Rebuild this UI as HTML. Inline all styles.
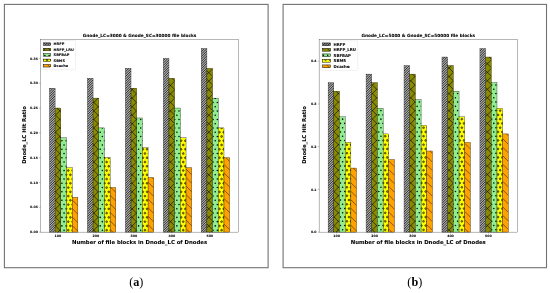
<!DOCTYPE html>
<html><head><meta charset="utf-8"><title>Figure</title>
<style>
html,body{margin:0;padding:0;background:#fff;}
svg{display:block;font-family:'DejaVu Sans','Liberation Sans',sans-serif;font-weight:bold;}
svg text{fill:#000;stroke:#000;stroke-width:0.07;}
svg text.cap{font-family:'Liberation Serif',serif;font-weight:normal;stroke:none;}
.hl{stroke:#000;stroke-width:0.6;fill:none;}
.hg{stroke:#161616;stroke-width:0.82;fill:none;}
.hl2{stroke:#1c0e00;stroke-width:0.5;fill:none;}
.hd{fill:#000;}
.ho{fill:#2a2200;fill-opacity:0.5;stroke:#1a1400;stroke-width:0.7;stroke-opacity:0.78;}
.tk{stroke:#000;stroke-width:0.285;}
</style></head><body>
<svg width="550" height="293" viewBox="0 0 550 293"><rect width="550" height="293" fill="#fff"/><rect x="4.4" y="4.4" width="263.70" height="263.30" fill="#fff" stroke="#727272" stroke-width="1.1"/><clipPath id="c1"><rect x="49.41" y="88.18" width="5.69" height="143.92"/></clipPath><rect x="49.41" y="88.18" width="5.69" height="143.92" fill="#acacac"/><path d="M49.41 89.46L50.69 88.18M49.41 91.89L53.12 88.18M49.41 94.32L55.11 88.62M49.41 96.75L55.11 91.05M49.41 99.18L55.11 93.48M49.41 101.61L55.11 95.91M49.41 104.04L55.11 98.34M49.41 106.47L55.11 100.77M49.41 108.9L55.11 103.2M49.41 111.33L55.11 105.63M49.41 113.76L55.11 108.06M49.41 116.19L55.11 110.49M49.41 118.62L55.11 112.92M49.41 121.05L55.11 115.35M49.41 123.48L55.11 117.78M49.41 125.91L55.11 120.21M49.41 128.34L55.11 122.64M49.41 130.77L55.11 125.07M49.41 133.2L55.11 127.5M49.41 135.63L55.11 129.93M49.41 138.06L55.11 132.36M49.41 140.49L55.11 134.79M49.41 142.92L55.11 137.22M49.41 145.35L55.11 139.65M49.41 147.78L55.11 142.08M49.41 150.21L55.11 144.51M49.41 152.64L55.11 146.94M49.41 155.07L55.11 149.37M49.41 157.5L55.11 151.8M49.41 159.93L55.11 154.23M49.41 162.36L55.11 156.66M49.41 164.79L55.11 159.09M49.41 167.22L55.11 161.52M49.41 169.65L55.11 163.95M49.41 172.08L55.11 166.38M49.41 174.51L55.11 168.81M49.41 176.94L55.11 171.24M49.41 179.37L55.11 173.67M49.41 181.8L55.11 176.1M49.41 184.23L55.11 178.53M49.41 186.66L55.11 180.96M49.41 189.09L55.11 183.39M49.41 191.52L55.11 185.82M49.41 193.95L55.11 188.25M49.41 196.38L55.11 190.68M49.41 198.81L55.11 193.11M49.41 201.24L55.11 195.54M49.41 203.67L55.11 197.97M49.41 206.1L55.11 200.4M49.41 208.53L55.11 202.83M49.41 210.96L55.11 205.26M49.41 213.39L55.11 207.69M49.41 215.82L55.11 210.12M49.41 218.25L55.11 212.55M49.41 220.68L55.11 214.98M49.41 223.11L55.11 217.41M49.41 225.54L55.11 219.84M49.41 227.97L55.11 222.27M49.41 230.4L55.11 224.7M50.14 232.1L55.11 227.13M52.57 232.1L55.11 229.56M55 232.1L55.11 231.99" class="hg" clip-path="url(#c1)"/><rect x="49.41" y="88.18" width="5.69" height="143.92" fill="none" stroke="#000" stroke-width="0.32"/><clipPath id="c2"><rect x="87.37" y="78.26" width="5.69" height="153.84"/></clipPath><rect x="87.37" y="78.26" width="5.69" height="153.84" fill="#acacac"/><path d="M87.37 80.66L89.77 78.26M87.37 83.09L92.2 78.26M87.37 85.52L93.06 79.83M87.37 87.95L93.06 82.26M87.37 90.38L93.06 84.69M87.37 92.81L93.06 87.12M87.37 95.24L93.06 89.55M87.37 97.67L93.06 91.98M87.37 100.1L93.06 94.41M87.37 102.53L93.06 96.84M87.37 104.96L93.06 99.27M87.37 107.39L93.06 101.7M87.37 109.82L93.06 104.13M87.37 112.25L93.06 106.56M87.37 114.68L93.06 108.99M87.37 117.11L93.06 111.42M87.37 119.54L93.06 113.85M87.37 121.97L93.06 116.28M87.37 124.4L93.06 118.71M87.37 126.83L93.06 121.14M87.37 129.26L93.06 123.57M87.37 131.69L93.06 126M87.37 134.12L93.06 128.43M87.37 136.55L93.06 130.86M87.37 138.98L93.06 133.29M87.37 141.41L93.06 135.72M87.37 143.84L93.06 138.15M87.37 146.27L93.06 140.58M87.37 148.7L93.06 143.01M87.37 151.13L93.06 145.44M87.37 153.56L93.06 147.87M87.37 155.99L93.06 150.3M87.37 158.42L93.06 152.73M87.37 160.85L93.06 155.16M87.37 163.28L93.06 157.59M87.37 165.71L93.06 160.02M87.37 168.14L93.06 162.45M87.37 170.57L93.06 164.88M87.37 173L93.06 167.31M87.37 175.43L93.06 169.74M87.37 177.86L93.06 172.17M87.37 180.29L93.06 174.6M87.37 182.72L93.06 177.03M87.37 185.15L93.06 179.46M87.37 187.58L93.06 181.89M87.37 190.01L93.06 184.32M87.37 192.44L93.06 186.75M87.37 194.87L93.06 189.18M87.37 197.3L93.06 191.61M87.37 199.73L93.06 194.04M87.37 202.16L93.06 196.47M87.37 204.59L93.06 198.9M87.37 207.02L93.06 201.33M87.37 209.45L93.06 203.76M87.37 211.88L93.06 206.19M87.37 214.31L93.06 208.62M87.37 216.74L93.06 211.05M87.37 219.17L93.06 213.48M87.37 221.6L93.06 215.91M87.37 224.03L93.06 218.34M87.37 226.46L93.06 220.77M87.37 228.89L93.06 223.2M87.37 231.32L93.06 225.63M89.02 232.1L93.06 228.06M91.45 232.1L93.06 230.49" class="hg" clip-path="url(#c2)"/><rect x="87.37" y="78.26" width="5.69" height="153.84" fill="none" stroke="#000" stroke-width="0.32"/><clipPath id="c3"><rect x="125.32" y="68.33" width="5.69" height="163.77"/></clipPath><rect x="125.32" y="68.33" width="5.69" height="163.77" fill="#acacac"/><path d="M125.32 69.44L126.43 68.33M125.32 71.87L128.86 68.33M125.32 74.3L131.01 68.61M125.32 76.73L131.01 71.04M125.32 79.16L131.01 73.47M125.32 81.59L131.01 75.9M125.32 84.02L131.01 78.33M125.32 86.45L131.01 80.76M125.32 88.88L131.01 83.19M125.32 91.31L131.01 85.62M125.32 93.74L131.01 88.05M125.32 96.17L131.01 90.48M125.32 98.6L131.01 92.91M125.32 101.03L131.01 95.34M125.32 103.46L131.01 97.77M125.32 105.89L131.01 100.2M125.32 108.32L131.01 102.63M125.32 110.75L131.01 105.06M125.32 113.18L131.01 107.49M125.32 115.61L131.01 109.92M125.32 118.04L131.01 112.35M125.32 120.47L131.01 114.78M125.32 122.9L131.01 117.21M125.32 125.33L131.01 119.64M125.32 127.76L131.01 122.07M125.32 130.19L131.01 124.5M125.32 132.62L131.01 126.93M125.32 135.05L131.01 129.36M125.32 137.48L131.01 131.79M125.32 139.91L131.01 134.22M125.32 142.34L131.01 136.65M125.32 144.77L131.01 139.08M125.32 147.2L131.01 141.51M125.32 149.63L131.01 143.94M125.32 152.06L131.01 146.37M125.32 154.49L131.01 148.8M125.32 156.92L131.01 151.23M125.32 159.35L131.01 153.66M125.32 161.78L131.01 156.09M125.32 164.21L131.01 158.52M125.32 166.64L131.01 160.95M125.32 169.07L131.01 163.38M125.32 171.5L131.01 165.81M125.32 173.93L131.01 168.24M125.32 176.36L131.01 170.67M125.32 178.79L131.01 173.1M125.32 181.22L131.01 175.53M125.32 183.65L131.01 177.96M125.32 186.08L131.01 180.39M125.32 188.51L131.01 182.82M125.32 190.94L131.01 185.25M125.32 193.37L131.01 187.68M125.32 195.8L131.01 190.11M125.32 198.23L131.01 192.54M125.32 200.66L131.01 194.97M125.32 203.09L131.01 197.4M125.32 205.52L131.01 199.83M125.32 207.95L131.01 202.26M125.32 210.38L131.01 204.69M125.32 212.81L131.01 207.12M125.32 215.24L131.01 209.55M125.32 217.67L131.01 211.98M125.32 220.1L131.01 214.41M125.32 222.53L131.01 216.84M125.32 224.96L131.01 219.27M125.32 227.39L131.01 221.7M125.32 229.82L131.01 224.13M125.47 232.1L131.01 226.56M127.9 232.1L131.01 228.99M130.33 232.1L131.01 231.42" class="hg" clip-path="url(#c3)"/><rect x="125.32" y="68.33" width="5.69" height="163.77" fill="none" stroke="#000" stroke-width="0.32"/><clipPath id="c4"><rect x="163.27" y="58.41" width="5.69" height="173.69"/></clipPath><rect x="163.27" y="58.41" width="5.69" height="173.69" fill="#acacac"/><path d="M163.27 60.65L165.51 58.41M163.27 63.08L167.94 58.41M163.27 65.51L168.96 59.82M163.27 67.94L168.96 62.25M163.27 70.37L168.96 64.68M163.27 72.8L168.96 67.11M163.27 75.23L168.96 69.54M163.27 77.66L168.96 71.97M163.27 80.09L168.96 74.4M163.27 82.52L168.96 76.83M163.27 84.95L168.96 79.26M163.27 87.38L168.96 81.69M163.27 89.81L168.96 84.12M163.27 92.24L168.96 86.55M163.27 94.67L168.96 88.98M163.27 97.1L168.96 91.41M163.27 99.53L168.96 93.84M163.27 101.96L168.96 96.27M163.27 104.39L168.96 98.7M163.27 106.82L168.96 101.13M163.27 109.25L168.96 103.56M163.27 111.68L168.96 105.99M163.27 114.11L168.96 108.42M163.27 116.54L168.96 110.85M163.27 118.97L168.96 113.28M163.27 121.4L168.96 115.71M163.27 123.83L168.96 118.14M163.27 126.26L168.96 120.57M163.27 128.69L168.96 123M163.27 131.12L168.96 125.43M163.27 133.55L168.96 127.86M163.27 135.98L168.96 130.29M163.27 138.41L168.96 132.72M163.27 140.84L168.96 135.15M163.27 143.27L168.96 137.58M163.27 145.7L168.96 140.01M163.27 148.13L168.96 142.44M163.27 150.56L168.96 144.87M163.27 152.99L168.96 147.3M163.27 155.42L168.96 149.73M163.27 157.85L168.96 152.16M163.27 160.28L168.96 154.59M163.27 162.71L168.96 157.02M163.27 165.14L168.96 159.45M163.27 167.57L168.96 161.88M163.27 170L168.96 164.31M163.27 172.43L168.96 166.74M163.27 174.86L168.96 169.17M163.27 177.29L168.96 171.6M163.27 179.72L168.96 174.03M163.27 182.15L168.96 176.46M163.27 184.58L168.96 178.89M163.27 187.01L168.96 181.32M163.27 189.44L168.96 183.75M163.27 191.87L168.96 186.18M163.27 194.3L168.96 188.61M163.27 196.73L168.96 191.04M163.27 199.16L168.96 193.47M163.27 201.59L168.96 195.9M163.27 204.02L168.96 198.33M163.27 206.45L168.96 200.76M163.27 208.88L168.96 203.19M163.27 211.31L168.96 205.62M163.27 213.74L168.96 208.05M163.27 216.17L168.96 210.48M163.27 218.6L168.96 212.91M163.27 221.03L168.96 215.34M163.27 223.46L168.96 217.77M163.27 225.89L168.96 220.2M163.27 228.32L168.96 222.63M163.27 230.75L168.96 225.06M164.35 232.1L168.96 227.49M166.78 232.1L168.96 229.92" class="hg" clip-path="url(#c4)"/><rect x="163.27" y="58.41" width="5.69" height="173.69" fill="none" stroke="#000" stroke-width="0.32"/><clipPath id="c5"><rect x="201.22" y="48.48" width="5.69" height="183.62"/></clipPath><rect x="201.22" y="48.48" width="5.69" height="183.62" fill="#acacac"/><path d="M201.22 49.43L202.17 48.48M201.22 51.86L204.6 48.48M201.22 54.29L206.92 48.59M201.22 56.72L206.92 51.02M201.22 59.15L206.92 53.45M201.22 61.58L206.92 55.88M201.22 64.01L206.92 58.31M201.22 66.44L206.92 60.74M201.22 68.87L206.92 63.17M201.22 71.3L206.92 65.6M201.22 73.73L206.92 68.03M201.22 76.16L206.92 70.46M201.22 78.59L206.92 72.89M201.22 81.02L206.92 75.32M201.22 83.45L206.92 77.75M201.22 85.88L206.92 80.18M201.22 88.31L206.92 82.61M201.22 90.74L206.92 85.04M201.22 93.17L206.92 87.47M201.22 95.6L206.92 89.9M201.22 98.03L206.92 92.33M201.22 100.46L206.92 94.76M201.22 102.89L206.92 97.19M201.22 105.32L206.92 99.62M201.22 107.75L206.92 102.05M201.22 110.18L206.92 104.48M201.22 112.61L206.92 106.91M201.22 115.04L206.92 109.34M201.22 117.47L206.92 111.77M201.22 119.9L206.92 114.2M201.22 122.33L206.92 116.63M201.22 124.76L206.92 119.06M201.22 127.19L206.92 121.49M201.22 129.62L206.92 123.92M201.22 132.05L206.92 126.35M201.22 134.48L206.92 128.78M201.22 136.91L206.92 131.21M201.22 139.34L206.92 133.64M201.22 141.77L206.92 136.07M201.22 144.2L206.92 138.5M201.22 146.63L206.92 140.93M201.22 149.06L206.92 143.36M201.22 151.49L206.92 145.79M201.22 153.92L206.92 148.22M201.22 156.35L206.92 150.65M201.22 158.78L206.92 153.08M201.22 161.21L206.92 155.51M201.22 163.64L206.92 157.94M201.22 166.07L206.92 160.37M201.22 168.5L206.92 162.8M201.22 170.93L206.92 165.23M201.22 173.36L206.92 167.66M201.22 175.79L206.92 170.09M201.22 178.22L206.92 172.52M201.22 180.65L206.92 174.95M201.22 183.08L206.92 177.38M201.22 185.51L206.92 179.81M201.22 187.94L206.92 182.24M201.22 190.37L206.92 184.67M201.22 192.8L206.92 187.1M201.22 195.23L206.92 189.53M201.22 197.66L206.92 191.96M201.22 200.09L206.92 194.39M201.22 202.52L206.92 196.82M201.22 204.95L206.92 199.25M201.22 207.38L206.92 201.68M201.22 209.81L206.92 204.11M201.22 212.24L206.92 206.54M201.22 214.67L206.92 208.97M201.22 217.1L206.92 211.4M201.22 219.53L206.92 213.83M201.22 221.96L206.92 216.26M201.22 224.39L206.92 218.69M201.22 226.82L206.92 221.12M201.22 229.25L206.92 223.55M201.22 231.68L206.92 225.98M203.23 232.1L206.92 228.41M205.66 232.1L206.92 230.84" class="hg" clip-path="url(#c5)"/><rect x="201.22" y="48.48" width="5.69" height="183.62" fill="none" stroke="#000" stroke-width="0.32"/><clipPath id="c6"><rect x="55.11" y="108.03" width="5.69" height="124.07"/></clipPath><rect x="55.11" y="108.03" width="5.69" height="124.07" fill="#8a8a00"/><path d="M55.11 115.59L60.8 109.89M55.11 124.1L60.8 118.41M55.11 132.62L60.8 126.93M55.11 141.14L60.8 135.44M55.11 149.65L60.8 143.96M55.11 158.17L60.8 152.48M55.11 166.69L60.8 160.99M55.11 175.2L60.8 169.51M55.11 183.72L60.8 178.03M55.11 192.24L60.8 186.54M55.11 200.75L60.8 195.06M55.11 209.27L60.8 203.58M55.11 217.79L60.8 212.09M55.11 226.3L60.8 220.61M57.83 232.1L60.8 229.13M55.11 225.48L60.8 231.17M55.11 216.96L60.8 222.66M55.11 208.45L60.8 214.14M55.11 199.93L60.8 205.62M55.11 191.41L60.8 197.11M55.11 182.9L60.8 188.59M55.11 174.38L60.8 180.07M55.11 165.86L60.8 171.56M55.11 157.35L60.8 163.04M55.11 148.83L60.8 154.52M55.11 140.31L60.8 146.01M55.11 131.8L60.8 137.49M55.11 123.28L60.8 128.97M55.11 114.76L60.8 120.46M56.89 108.03L60.8 111.94" class="hl" clip-path="url(#c6)"/><rect x="55.11" y="108.03" width="5.69" height="124.07" fill="none" stroke="#000" stroke-width="0.32"/><clipPath id="c7"><rect x="93.06" y="98.11" width="5.69" height="133.99"/></clipPath><rect x="93.06" y="98.11" width="5.69" height="133.99" fill="#8a8a00"/><path d="M93.06 103.18L98.14 98.11M93.06 111.7L98.75 106.01M93.06 120.22L98.75 114.53M93.06 128.73L98.75 123.04M93.06 137.25L98.75 131.56M93.06 145.77L98.75 140.08M93.06 154.28L98.75 148.59M93.06 162.8L98.75 157.11M93.06 171.32L98.75 165.63M93.06 179.83L98.75 174.14M93.06 188.35L98.75 182.66M93.06 196.87L98.75 191.18M93.06 205.38L98.75 199.69M93.06 213.9L98.75 208.21M93.06 222.42L98.75 216.73M93.06 230.93L98.75 225.24M93.06 229.37L95.79 232.1M93.06 220.85L98.75 226.54M93.06 212.33L98.75 218.02M93.06 203.82L98.75 209.51M93.06 195.3L98.75 200.99M93.06 186.78L98.75 192.47M93.06 178.27L98.75 183.96M93.06 169.75L98.75 175.44M93.06 161.23L98.75 166.92M93.06 152.72L98.75 158.41M93.06 144.2L98.75 149.89M93.06 135.68L98.75 141.37M93.06 127.17L98.75 132.86M93.06 118.65L98.75 124.34M93.06 110.13L98.75 115.82M93.06 101.62L98.75 107.31M98.07 98.11L98.75 98.79" class="hl" clip-path="url(#c7)"/><rect x="93.06" y="98.11" width="5.69" height="133.99" fill="none" stroke="#000" stroke-width="0.32"/><clipPath id="c8"><rect x="131.01" y="88.18" width="5.69" height="143.92"/></clipPath><rect x="131.01" y="88.18" width="5.69" height="143.92" fill="#8a8a00"/><path d="M131.01 90.78L133.61 88.18M131.01 99.3L136.7 93.61M131.01 107.82L136.7 102.12M131.01 116.33L136.7 110.64M131.01 124.85L136.7 119.16M131.01 133.37L136.7 127.67M131.01 141.88L136.7 136.19M131.01 150.4L136.7 144.71M131.01 158.92L136.7 153.22M131.01 167.43L136.7 161.74M131.01 175.95L136.7 170.26M131.01 184.47L136.7 178.77M131.01 192.98L136.7 187.29M131.01 201.5L136.7 195.81M131.01 210.02L136.7 204.32M131.01 218.53L136.7 212.84M131.01 227.05L136.7 221.36M134.48 232.1L136.7 229.87M131.01 224.73L136.7 230.43M131.01 216.22L136.7 221.91M131.01 207.7L136.7 213.39M131.01 199.18L136.7 204.88M131.01 190.67L136.7 196.36M131.01 182.15L136.7 187.84M131.01 173.63L136.7 179.33M131.01 165.12L136.7 170.81M131.01 156.6L136.7 162.29M131.01 148.08L136.7 153.78M131.01 139.57L136.7 145.26M131.01 131.05L136.7 136.74M131.01 122.53L136.7 128.23M131.01 114.02L136.7 119.71M131.01 105.5L136.7 111.19M131.01 96.98L136.7 102.68M131.01 88.47L136.7 94.16" class="hl" clip-path="url(#c8)"/><rect x="131.01" y="88.18" width="5.69" height="143.92" fill="none" stroke="#000" stroke-width="0.32"/><clipPath id="c9"><rect x="168.96" y="78.26" width="5.69" height="153.84"/></clipPath><rect x="168.96" y="78.26" width="5.69" height="153.84" fill="#8a8a00"/><path d="M168.96 78.38L169.09 78.26M168.96 86.9L174.66 81.2M168.96 95.41L174.66 89.72M168.96 103.93L174.66 98.24M168.96 112.45L174.66 106.75M168.96 120.96L174.66 115.27M168.96 129.48L174.66 123.79M168.96 138L174.66 132.3M168.96 146.51L174.66 140.82M168.96 155.03L174.66 149.34M168.96 163.55L174.66 157.85M168.96 172.06L174.66 166.37M168.96 180.58L174.66 174.89M168.96 189.1L174.66 183.4M168.96 197.61L174.66 191.92M168.96 206.13L174.66 200.44M168.96 214.65L174.66 208.95M168.96 223.16L174.66 217.47M168.96 231.68L174.66 225.99M168.96 228.62L172.44 232.1M168.96 220.1L174.66 225.8M168.96 211.59L174.66 217.28M168.96 203.07L174.66 208.76M168.96 194.55L174.66 200.25M168.96 186.04L174.66 191.73M168.96 177.52L174.66 183.21M168.96 169L174.66 174.7M168.96 160.49L174.66 166.18M168.96 151.97L174.66 157.66M168.96 143.45L174.66 149.15M168.96 134.94L174.66 140.63M168.96 126.42L174.66 132.11M168.96 117.9L174.66 123.6M168.96 109.39L174.66 115.08M168.96 100.87L174.66 106.56M168.96 92.35L174.66 98.05M168.96 83.84L174.66 89.53M171.9 78.26L174.66 81.01" class="hl" clip-path="url(#c9)"/><rect x="168.96" y="78.26" width="5.69" height="153.84" fill="none" stroke="#000" stroke-width="0.32"/><clipPath id="c10"><rect x="206.92" y="68.33" width="5.69" height="163.77"/></clipPath><rect x="206.92" y="68.33" width="5.69" height="163.77" fill="#8a8a00"/><path d="M206.92 74.49L212.61 68.8M206.92 83.01L212.61 77.32M206.92 91.53L212.61 85.84M206.92 100.04L212.61 94.35M206.92 108.56L212.61 102.87M206.92 117.08L212.61 111.39M206.92 125.59L212.61 119.9M206.92 134.11L212.61 128.42M206.92 142.63L212.61 136.94M206.92 151.14L212.61 145.45M206.92 159.66L212.61 153.97M206.92 168.18L212.61 162.49M206.92 176.69L212.61 171M206.92 185.21L212.61 179.52M206.92 193.73L212.61 188.04M206.92 202.24L212.61 196.55M206.92 210.76L212.61 205.07M206.92 219.28L212.61 213.59M206.92 227.79L212.61 222.1M211.13 232.1L212.61 230.62M206.92 223.99L212.61 229.68M206.92 215.47L212.61 221.16M206.92 206.96L212.61 212.65M206.92 198.44L212.61 204.13M206.92 189.92L212.61 195.61M206.92 181.41L212.61 187.1M206.92 172.89L212.61 178.58M206.92 164.37L212.61 170.06M206.92 155.86L212.61 161.55M206.92 147.34L212.61 153.03M206.92 138.82L212.61 144.51M206.92 130.31L212.61 136M206.92 121.79L212.61 127.48M206.92 113.27L212.61 118.96M206.92 104.76L212.61 110.45M206.92 96.24L212.61 101.93M206.92 87.72L212.61 93.41M206.92 79.21L212.61 84.9M206.92 70.69L212.61 76.38" class="hl" clip-path="url(#c10)"/><rect x="206.92" y="68.33" width="5.69" height="163.77" fill="none" stroke="#000" stroke-width="0.32"/><clipPath id="c11"><rect x="60.8" y="137.81" width="5.69" height="94.29"/></clipPath><rect x="60.8" y="137.81" width="5.69" height="94.29" fill="#90ee90"/><g class="hd" clip-path="url(#c11)"><circle cx="61.91" cy="140.72" r="0.77"/><circle cx="66.16" cy="140.72" r="0.77"/><circle cx="59.78" cy="144.98" r="0.77"/><circle cx="64.04" cy="144.98" r="0.77"/><circle cx="61.91" cy="149.24" r="0.77"/><circle cx="66.16" cy="149.24" r="0.77"/><circle cx="59.78" cy="153.5" r="0.77"/><circle cx="64.04" cy="153.5" r="0.77"/><circle cx="61.91" cy="157.76" r="0.77"/><circle cx="66.16" cy="157.76" r="0.77"/><circle cx="59.78" cy="162.02" r="0.77"/><circle cx="64.04" cy="162.02" r="0.77"/><circle cx="61.91" cy="166.28" r="0.77"/><circle cx="66.16" cy="166.28" r="0.77"/><circle cx="59.78" cy="170.53" r="0.77"/><circle cx="64.04" cy="170.53" r="0.77"/><circle cx="61.91" cy="174.79" r="0.77"/><circle cx="66.16" cy="174.79" r="0.77"/><circle cx="59.78" cy="179.05" r="0.77"/><circle cx="64.04" cy="179.05" r="0.77"/><circle cx="61.91" cy="183.31" r="0.77"/><circle cx="66.16" cy="183.31" r="0.77"/><circle cx="59.78" cy="187.57" r="0.77"/><circle cx="64.04" cy="187.57" r="0.77"/><circle cx="61.91" cy="191.83" r="0.77"/><circle cx="66.16" cy="191.83" r="0.77"/><circle cx="59.78" cy="196.08" r="0.77"/><circle cx="64.04" cy="196.08" r="0.77"/><circle cx="61.91" cy="200.34" r="0.77"/><circle cx="66.16" cy="200.34" r="0.77"/><circle cx="59.78" cy="204.6" r="0.77"/><circle cx="64.04" cy="204.6" r="0.77"/><circle cx="61.91" cy="208.86" r="0.77"/><circle cx="66.16" cy="208.86" r="0.77"/><circle cx="59.78" cy="213.12" r="0.77"/><circle cx="64.04" cy="213.12" r="0.77"/><circle cx="61.91" cy="217.38" r="0.77"/><circle cx="66.16" cy="217.38" r="0.77"/><circle cx="59.78" cy="221.63" r="0.77"/><circle cx="64.04" cy="221.63" r="0.77"/><circle cx="61.91" cy="225.89" r="0.77"/><circle cx="66.16" cy="225.89" r="0.77"/><circle cx="59.78" cy="230.15" r="0.77"/><circle cx="64.04" cy="230.15" r="0.77"/></g><rect x="60.8" y="137.81" width="5.69" height="94.29" fill="none" stroke="#000" stroke-width="0.32"/><clipPath id="c12"><rect x="98.75" y="127.88" width="5.69" height="104.22"/></clipPath><rect x="98.75" y="127.88" width="5.69" height="104.22" fill="#90ee90"/><g class="hd" clip-path="url(#c12)"><circle cx="98.1" cy="127.95" r="0.77"/><circle cx="102.36" cy="127.95" r="0.77"/><circle cx="100.23" cy="132.21" r="0.77"/><circle cx="104.49" cy="132.21" r="0.77"/><circle cx="98.1" cy="136.47" r="0.77"/><circle cx="102.36" cy="136.47" r="0.77"/><circle cx="100.23" cy="140.72" r="0.77"/><circle cx="104.49" cy="140.72" r="0.77"/><circle cx="98.1" cy="144.98" r="0.77"/><circle cx="102.36" cy="144.98" r="0.77"/><circle cx="100.23" cy="149.24" r="0.77"/><circle cx="104.49" cy="149.24" r="0.77"/><circle cx="98.1" cy="153.5" r="0.77"/><circle cx="102.36" cy="153.5" r="0.77"/><circle cx="100.23" cy="157.76" r="0.77"/><circle cx="104.49" cy="157.76" r="0.77"/><circle cx="98.1" cy="162.02" r="0.77"/><circle cx="102.36" cy="162.02" r="0.77"/><circle cx="100.23" cy="166.28" r="0.77"/><circle cx="104.49" cy="166.28" r="0.77"/><circle cx="98.1" cy="170.53" r="0.77"/><circle cx="102.36" cy="170.53" r="0.77"/><circle cx="100.23" cy="174.79" r="0.77"/><circle cx="104.49" cy="174.79" r="0.77"/><circle cx="98.1" cy="179.05" r="0.77"/><circle cx="102.36" cy="179.05" r="0.77"/><circle cx="100.23" cy="183.31" r="0.77"/><circle cx="104.49" cy="183.31" r="0.77"/><circle cx="98.1" cy="187.57" r="0.77"/><circle cx="102.36" cy="187.57" r="0.77"/><circle cx="100.23" cy="191.83" r="0.77"/><circle cx="104.49" cy="191.83" r="0.77"/><circle cx="98.1" cy="196.08" r="0.77"/><circle cx="102.36" cy="196.08" r="0.77"/><circle cx="100.23" cy="200.34" r="0.77"/><circle cx="104.49" cy="200.34" r="0.77"/><circle cx="98.1" cy="204.6" r="0.77"/><circle cx="102.36" cy="204.6" r="0.77"/><circle cx="100.23" cy="208.86" r="0.77"/><circle cx="104.49" cy="208.86" r="0.77"/><circle cx="98.1" cy="213.12" r="0.77"/><circle cx="102.36" cy="213.12" r="0.77"/><circle cx="100.23" cy="217.38" r="0.77"/><circle cx="104.49" cy="217.38" r="0.77"/><circle cx="98.1" cy="221.63" r="0.77"/><circle cx="102.36" cy="221.63" r="0.77"/><circle cx="100.23" cy="225.89" r="0.77"/><circle cx="104.49" cy="225.89" r="0.77"/><circle cx="98.1" cy="230.15" r="0.77"/><circle cx="102.36" cy="230.15" r="0.77"/></g><rect x="98.75" y="127.88" width="5.69" height="104.22" fill="none" stroke="#000" stroke-width="0.32"/><clipPath id="c13"><rect x="136.7" y="117.96" width="5.69" height="114.14"/></clipPath><rect x="136.7" y="117.96" width="5.69" height="114.14" fill="#90ee90"/><g class="hd" clip-path="url(#c13)"><circle cx="136.43" cy="119.43" r="0.77"/><circle cx="140.69" cy="119.43" r="0.77"/><circle cx="138.56" cy="123.69" r="0.77"/><circle cx="142.81" cy="123.69" r="0.77"/><circle cx="136.43" cy="127.95" r="0.77"/><circle cx="140.69" cy="127.95" r="0.77"/><circle cx="138.56" cy="132.21" r="0.77"/><circle cx="142.81" cy="132.21" r="0.77"/><circle cx="136.43" cy="136.47" r="0.77"/><circle cx="140.69" cy="136.47" r="0.77"/><circle cx="138.56" cy="140.72" r="0.77"/><circle cx="142.81" cy="140.72" r="0.77"/><circle cx="136.43" cy="144.98" r="0.77"/><circle cx="140.69" cy="144.98" r="0.77"/><circle cx="138.56" cy="149.24" r="0.77"/><circle cx="142.81" cy="149.24" r="0.77"/><circle cx="136.43" cy="153.5" r="0.77"/><circle cx="140.69" cy="153.5" r="0.77"/><circle cx="138.56" cy="157.76" r="0.77"/><circle cx="142.81" cy="157.76" r="0.77"/><circle cx="136.43" cy="162.02" r="0.77"/><circle cx="140.69" cy="162.02" r="0.77"/><circle cx="138.56" cy="166.28" r="0.77"/><circle cx="142.81" cy="166.28" r="0.77"/><circle cx="136.43" cy="170.53" r="0.77"/><circle cx="140.69" cy="170.53" r="0.77"/><circle cx="138.56" cy="174.79" r="0.77"/><circle cx="142.81" cy="174.79" r="0.77"/><circle cx="136.43" cy="179.05" r="0.77"/><circle cx="140.69" cy="179.05" r="0.77"/><circle cx="138.56" cy="183.31" r="0.77"/><circle cx="142.81" cy="183.31" r="0.77"/><circle cx="136.43" cy="187.57" r="0.77"/><circle cx="140.69" cy="187.57" r="0.77"/><circle cx="138.56" cy="191.83" r="0.77"/><circle cx="142.81" cy="191.83" r="0.77"/><circle cx="136.43" cy="196.08" r="0.77"/><circle cx="140.69" cy="196.08" r="0.77"/><circle cx="138.56" cy="200.34" r="0.77"/><circle cx="142.81" cy="200.34" r="0.77"/><circle cx="136.43" cy="204.6" r="0.77"/><circle cx="140.69" cy="204.6" r="0.77"/><circle cx="138.56" cy="208.86" r="0.77"/><circle cx="142.81" cy="208.86" r="0.77"/><circle cx="136.43" cy="213.12" r="0.77"/><circle cx="140.69" cy="213.12" r="0.77"/><circle cx="138.56" cy="217.38" r="0.77"/><circle cx="142.81" cy="217.38" r="0.77"/><circle cx="136.43" cy="221.63" r="0.77"/><circle cx="140.69" cy="221.63" r="0.77"/><circle cx="138.56" cy="225.89" r="0.77"/><circle cx="142.81" cy="225.89" r="0.77"/><circle cx="136.43" cy="230.15" r="0.77"/><circle cx="140.69" cy="230.15" r="0.77"/></g><rect x="136.7" y="117.96" width="5.69" height="114.14" fill="none" stroke="#000" stroke-width="0.32"/><clipPath id="c14"><rect x="174.66" y="108.03" width="5.69" height="124.07"/></clipPath><rect x="174.66" y="108.03" width="5.69" height="124.07" fill="#90ee90"/><g class="hd" clip-path="url(#c14)"><circle cx="174.75" cy="110.92" r="0.77"/><circle cx="179.01" cy="110.92" r="0.77"/><circle cx="176.88" cy="115.18" r="0.77"/><circle cx="181.14" cy="115.18" r="0.77"/><circle cx="174.75" cy="119.43" r="0.77"/><circle cx="179.01" cy="119.43" r="0.77"/><circle cx="176.88" cy="123.69" r="0.77"/><circle cx="181.14" cy="123.69" r="0.77"/><circle cx="174.75" cy="127.95" r="0.77"/><circle cx="179.01" cy="127.95" r="0.77"/><circle cx="176.88" cy="132.21" r="0.77"/><circle cx="181.14" cy="132.21" r="0.77"/><circle cx="174.75" cy="136.47" r="0.77"/><circle cx="179.01" cy="136.47" r="0.77"/><circle cx="176.88" cy="140.72" r="0.77"/><circle cx="181.14" cy="140.72" r="0.77"/><circle cx="174.75" cy="144.98" r="0.77"/><circle cx="179.01" cy="144.98" r="0.77"/><circle cx="176.88" cy="149.24" r="0.77"/><circle cx="181.14" cy="149.24" r="0.77"/><circle cx="174.75" cy="153.5" r="0.77"/><circle cx="179.01" cy="153.5" r="0.77"/><circle cx="176.88" cy="157.76" r="0.77"/><circle cx="181.14" cy="157.76" r="0.77"/><circle cx="174.75" cy="162.02" r="0.77"/><circle cx="179.01" cy="162.02" r="0.77"/><circle cx="176.88" cy="166.28" r="0.77"/><circle cx="181.14" cy="166.28" r="0.77"/><circle cx="174.75" cy="170.53" r="0.77"/><circle cx="179.01" cy="170.53" r="0.77"/><circle cx="176.88" cy="174.79" r="0.77"/><circle cx="181.14" cy="174.79" r="0.77"/><circle cx="174.75" cy="179.05" r="0.77"/><circle cx="179.01" cy="179.05" r="0.77"/><circle cx="176.88" cy="183.31" r="0.77"/><circle cx="181.14" cy="183.31" r="0.77"/><circle cx="174.75" cy="187.57" r="0.77"/><circle cx="179.01" cy="187.57" r="0.77"/><circle cx="176.88" cy="191.83" r="0.77"/><circle cx="181.14" cy="191.83" r="0.77"/><circle cx="174.75" cy="196.08" r="0.77"/><circle cx="179.01" cy="196.08" r="0.77"/><circle cx="176.88" cy="200.34" r="0.77"/><circle cx="181.14" cy="200.34" r="0.77"/><circle cx="174.75" cy="204.6" r="0.77"/><circle cx="179.01" cy="204.6" r="0.77"/><circle cx="176.88" cy="208.86" r="0.77"/><circle cx="181.14" cy="208.86" r="0.77"/><circle cx="174.75" cy="213.12" r="0.77"/><circle cx="179.01" cy="213.12" r="0.77"/><circle cx="176.88" cy="217.38" r="0.77"/><circle cx="181.14" cy="217.38" r="0.77"/><circle cx="174.75" cy="221.63" r="0.77"/><circle cx="179.01" cy="221.63" r="0.77"/><circle cx="176.88" cy="225.89" r="0.77"/><circle cx="181.14" cy="225.89" r="0.77"/><circle cx="174.75" cy="230.15" r="0.77"/><circle cx="179.01" cy="230.15" r="0.77"/></g><rect x="174.66" y="108.03" width="5.69" height="124.07" fill="none" stroke="#000" stroke-width="0.32"/><clipPath id="c15"><rect x="212.61" y="98.11" width="5.69" height="133.99"/></clipPath><rect x="212.61" y="98.11" width="5.69" height="133.99" fill="#90ee90"/><g class="hd" clip-path="url(#c15)"><circle cx="215.21" cy="98.14" r="0.77"/><circle cx="213.08" cy="102.4" r="0.77"/><circle cx="217.34" cy="102.4" r="0.77"/><circle cx="215.21" cy="106.66" r="0.77"/><circle cx="213.08" cy="110.92" r="0.77"/><circle cx="217.34" cy="110.92" r="0.77"/><circle cx="215.21" cy="115.18" r="0.77"/><circle cx="213.08" cy="119.43" r="0.77"/><circle cx="217.34" cy="119.43" r="0.77"/><circle cx="215.21" cy="123.69" r="0.77"/><circle cx="213.08" cy="127.95" r="0.77"/><circle cx="217.34" cy="127.95" r="0.77"/><circle cx="215.21" cy="132.21" r="0.77"/><circle cx="213.08" cy="136.47" r="0.77"/><circle cx="217.34" cy="136.47" r="0.77"/><circle cx="215.21" cy="140.72" r="0.77"/><circle cx="213.08" cy="144.98" r="0.77"/><circle cx="217.34" cy="144.98" r="0.77"/><circle cx="215.21" cy="149.24" r="0.77"/><circle cx="213.08" cy="153.5" r="0.77"/><circle cx="217.34" cy="153.5" r="0.77"/><circle cx="215.21" cy="157.76" r="0.77"/><circle cx="213.08" cy="162.02" r="0.77"/><circle cx="217.34" cy="162.02" r="0.77"/><circle cx="215.21" cy="166.28" r="0.77"/><circle cx="213.08" cy="170.53" r="0.77"/><circle cx="217.34" cy="170.53" r="0.77"/><circle cx="215.21" cy="174.79" r="0.77"/><circle cx="213.08" cy="179.05" r="0.77"/><circle cx="217.34" cy="179.05" r="0.77"/><circle cx="215.21" cy="183.31" r="0.77"/><circle cx="213.08" cy="187.57" r="0.77"/><circle cx="217.34" cy="187.57" r="0.77"/><circle cx="215.21" cy="191.83" r="0.77"/><circle cx="213.08" cy="196.08" r="0.77"/><circle cx="217.34" cy="196.08" r="0.77"/><circle cx="215.21" cy="200.34" r="0.77"/><circle cx="213.08" cy="204.6" r="0.77"/><circle cx="217.34" cy="204.6" r="0.77"/><circle cx="215.21" cy="208.86" r="0.77"/><circle cx="213.08" cy="213.12" r="0.77"/><circle cx="217.34" cy="213.12" r="0.77"/><circle cx="215.21" cy="217.38" r="0.77"/><circle cx="213.08" cy="221.63" r="0.77"/><circle cx="217.34" cy="221.63" r="0.77"/><circle cx="215.21" cy="225.89" r="0.77"/><circle cx="213.08" cy="230.15" r="0.77"/><circle cx="217.34" cy="230.15" r="0.77"/></g><rect x="212.61" y="98.11" width="5.69" height="133.99" fill="none" stroke="#000" stroke-width="0.32"/><clipPath id="c16"><rect x="66.49" y="167.59" width="5.69" height="64.51"/></clipPath><rect x="66.49" y="167.59" width="5.69" height="64.51" fill="#ffff00"/><g class="ho" clip-path="url(#c16)"><circle cx="68.29" cy="170.53" r="0.92"/><circle cx="72.55" cy="170.53" r="0.92"/><circle cx="66.16" cy="174.79" r="0.92"/><circle cx="70.42" cy="174.79" r="0.92"/><circle cx="68.29" cy="179.05" r="0.92"/><circle cx="72.55" cy="179.05" r="0.92"/><circle cx="66.16" cy="183.31" r="0.92"/><circle cx="70.42" cy="183.31" r="0.92"/><circle cx="68.29" cy="187.57" r="0.92"/><circle cx="72.55" cy="187.57" r="0.92"/><circle cx="66.16" cy="191.83" r="0.92"/><circle cx="70.42" cy="191.83" r="0.92"/><circle cx="68.29" cy="196.08" r="0.92"/><circle cx="72.55" cy="196.08" r="0.92"/><circle cx="66.16" cy="200.34" r="0.92"/><circle cx="70.42" cy="200.34" r="0.92"/><circle cx="68.29" cy="204.6" r="0.92"/><circle cx="72.55" cy="204.6" r="0.92"/><circle cx="66.16" cy="208.86" r="0.92"/><circle cx="70.42" cy="208.86" r="0.92"/><circle cx="68.29" cy="213.12" r="0.92"/><circle cx="72.55" cy="213.12" r="0.92"/><circle cx="66.16" cy="217.38" r="0.92"/><circle cx="70.42" cy="217.38" r="0.92"/><circle cx="68.29" cy="221.63" r="0.92"/><circle cx="72.55" cy="221.63" r="0.92"/><circle cx="66.16" cy="225.89" r="0.92"/><circle cx="70.42" cy="225.89" r="0.92"/><circle cx="68.29" cy="230.15" r="0.92"/><circle cx="72.55" cy="230.15" r="0.92"/></g><rect x="66.49" y="167.59" width="5.69" height="64.51" fill="none" stroke="#000" stroke-width="0.32"/><clipPath id="c17"><rect x="104.44" y="157.66" width="5.69" height="74.44"/></clipPath><rect x="104.44" y="157.66" width="5.69" height="74.44" fill="#ffff00"/><g class="ho" clip-path="url(#c17)"><circle cx="104.49" cy="157.76" r="0.92"/><circle cx="108.75" cy="157.76" r="0.92"/><circle cx="106.62" cy="162.02" r="0.92"/><circle cx="110.88" cy="162.02" r="0.92"/><circle cx="104.49" cy="166.28" r="0.92"/><circle cx="108.75" cy="166.28" r="0.92"/><circle cx="106.62" cy="170.53" r="0.92"/><circle cx="110.88" cy="170.53" r="0.92"/><circle cx="104.49" cy="174.79" r="0.92"/><circle cx="108.75" cy="174.79" r="0.92"/><circle cx="106.62" cy="179.05" r="0.92"/><circle cx="110.88" cy="179.05" r="0.92"/><circle cx="104.49" cy="183.31" r="0.92"/><circle cx="108.75" cy="183.31" r="0.92"/><circle cx="106.62" cy="187.57" r="0.92"/><circle cx="110.88" cy="187.57" r="0.92"/><circle cx="104.49" cy="191.83" r="0.92"/><circle cx="108.75" cy="191.83" r="0.92"/><circle cx="106.62" cy="196.08" r="0.92"/><circle cx="110.88" cy="196.08" r="0.92"/><circle cx="104.49" cy="200.34" r="0.92"/><circle cx="108.75" cy="200.34" r="0.92"/><circle cx="106.62" cy="204.6" r="0.92"/><circle cx="110.88" cy="204.6" r="0.92"/><circle cx="104.49" cy="208.86" r="0.92"/><circle cx="108.75" cy="208.86" r="0.92"/><circle cx="106.62" cy="213.12" r="0.92"/><circle cx="110.88" cy="213.12" r="0.92"/><circle cx="104.49" cy="217.38" r="0.92"/><circle cx="108.75" cy="217.38" r="0.92"/><circle cx="106.62" cy="221.63" r="0.92"/><circle cx="110.88" cy="221.63" r="0.92"/><circle cx="104.49" cy="225.89" r="0.92"/><circle cx="108.75" cy="225.89" r="0.92"/><circle cx="106.62" cy="230.15" r="0.92"/><circle cx="110.88" cy="230.15" r="0.92"/></g><rect x="104.44" y="157.66" width="5.69" height="74.44" fill="none" stroke="#000" stroke-width="0.32"/><clipPath id="c18"><rect x="142.4" y="147.73" width="5.69" height="84.37"/></clipPath><rect x="142.4" y="147.73" width="5.69" height="84.37" fill="#ffff00"/><g class="ho" clip-path="url(#c18)"><circle cx="142.81" cy="149.24" r="0.92"/><circle cx="147.07" cy="149.24" r="0.92"/><circle cx="144.94" cy="153.5" r="0.92"/><circle cx="149.2" cy="153.5" r="0.92"/><circle cx="142.81" cy="157.76" r="0.92"/><circle cx="147.07" cy="157.76" r="0.92"/><circle cx="144.94" cy="162.02" r="0.92"/><circle cx="149.2" cy="162.02" r="0.92"/><circle cx="142.81" cy="166.28" r="0.92"/><circle cx="147.07" cy="166.28" r="0.92"/><circle cx="144.94" cy="170.53" r="0.92"/><circle cx="149.2" cy="170.53" r="0.92"/><circle cx="142.81" cy="174.79" r="0.92"/><circle cx="147.07" cy="174.79" r="0.92"/><circle cx="144.94" cy="179.05" r="0.92"/><circle cx="149.2" cy="179.05" r="0.92"/><circle cx="142.81" cy="183.31" r="0.92"/><circle cx="147.07" cy="183.31" r="0.92"/><circle cx="144.94" cy="187.57" r="0.92"/><circle cx="149.2" cy="187.57" r="0.92"/><circle cx="142.81" cy="191.83" r="0.92"/><circle cx="147.07" cy="191.83" r="0.92"/><circle cx="144.94" cy="196.08" r="0.92"/><circle cx="149.2" cy="196.08" r="0.92"/><circle cx="142.81" cy="200.34" r="0.92"/><circle cx="147.07" cy="200.34" r="0.92"/><circle cx="144.94" cy="204.6" r="0.92"/><circle cx="149.2" cy="204.6" r="0.92"/><circle cx="142.81" cy="208.86" r="0.92"/><circle cx="147.07" cy="208.86" r="0.92"/><circle cx="144.94" cy="213.12" r="0.92"/><circle cx="149.2" cy="213.12" r="0.92"/><circle cx="142.81" cy="217.38" r="0.92"/><circle cx="147.07" cy="217.38" r="0.92"/><circle cx="144.94" cy="221.63" r="0.92"/><circle cx="149.2" cy="221.63" r="0.92"/><circle cx="142.81" cy="225.89" r="0.92"/><circle cx="147.07" cy="225.89" r="0.92"/><circle cx="144.94" cy="230.15" r="0.92"/><circle cx="149.2" cy="230.15" r="0.92"/></g><rect x="142.4" y="147.73" width="5.69" height="84.37" fill="none" stroke="#000" stroke-width="0.32"/><clipPath id="c19"><rect x="180.35" y="137.81" width="5.69" height="94.29"/></clipPath><rect x="180.35" y="137.81" width="5.69" height="94.29" fill="#ffff00"/><g class="ho" clip-path="url(#c19)"><circle cx="181.14" cy="140.72" r="0.92"/><circle cx="185.4" cy="140.72" r="0.92"/><circle cx="183.27" cy="144.98" r="0.92"/><circle cx="181.14" cy="149.24" r="0.92"/><circle cx="185.4" cy="149.24" r="0.92"/><circle cx="183.27" cy="153.5" r="0.92"/><circle cx="181.14" cy="157.76" r="0.92"/><circle cx="185.4" cy="157.76" r="0.92"/><circle cx="183.27" cy="162.02" r="0.92"/><circle cx="181.14" cy="166.28" r="0.92"/><circle cx="185.4" cy="166.28" r="0.92"/><circle cx="183.27" cy="170.53" r="0.92"/><circle cx="181.14" cy="174.79" r="0.92"/><circle cx="185.4" cy="174.79" r="0.92"/><circle cx="183.27" cy="179.05" r="0.92"/><circle cx="181.14" cy="183.31" r="0.92"/><circle cx="185.4" cy="183.31" r="0.92"/><circle cx="183.27" cy="187.57" r="0.92"/><circle cx="181.14" cy="191.83" r="0.92"/><circle cx="185.4" cy="191.83" r="0.92"/><circle cx="183.27" cy="196.08" r="0.92"/><circle cx="181.14" cy="200.34" r="0.92"/><circle cx="185.4" cy="200.34" r="0.92"/><circle cx="183.27" cy="204.6" r="0.92"/><circle cx="181.14" cy="208.86" r="0.92"/><circle cx="185.4" cy="208.86" r="0.92"/><circle cx="183.27" cy="213.12" r="0.92"/><circle cx="181.14" cy="217.38" r="0.92"/><circle cx="185.4" cy="217.38" r="0.92"/><circle cx="183.27" cy="221.63" r="0.92"/><circle cx="181.14" cy="225.89" r="0.92"/><circle cx="185.4" cy="225.89" r="0.92"/><circle cx="183.27" cy="230.15" r="0.92"/></g><rect x="180.35" y="137.81" width="5.69" height="94.29" fill="none" stroke="#000" stroke-width="0.32"/><clipPath id="c20"><rect x="218.3" y="127.88" width="5.69" height="104.22"/></clipPath><rect x="218.3" y="127.88" width="5.69" height="104.22" fill="#ffff00"/><g class="ho" clip-path="url(#c20)"><circle cx="217.34" cy="127.95" r="0.92"/><circle cx="221.59" cy="127.95" r="0.92"/><circle cx="219.46" cy="132.21" r="0.92"/><circle cx="223.72" cy="132.21" r="0.92"/><circle cx="217.34" cy="136.47" r="0.92"/><circle cx="221.59" cy="136.47" r="0.92"/><circle cx="219.46" cy="140.72" r="0.92"/><circle cx="223.72" cy="140.72" r="0.92"/><circle cx="217.34" cy="144.98" r="0.92"/><circle cx="221.59" cy="144.98" r="0.92"/><circle cx="219.46" cy="149.24" r="0.92"/><circle cx="223.72" cy="149.24" r="0.92"/><circle cx="217.34" cy="153.5" r="0.92"/><circle cx="221.59" cy="153.5" r="0.92"/><circle cx="219.46" cy="157.76" r="0.92"/><circle cx="223.72" cy="157.76" r="0.92"/><circle cx="217.34" cy="162.02" r="0.92"/><circle cx="221.59" cy="162.02" r="0.92"/><circle cx="219.46" cy="166.28" r="0.92"/><circle cx="223.72" cy="166.28" r="0.92"/><circle cx="217.34" cy="170.53" r="0.92"/><circle cx="221.59" cy="170.53" r="0.92"/><circle cx="219.46" cy="174.79" r="0.92"/><circle cx="223.72" cy="174.79" r="0.92"/><circle cx="217.34" cy="179.05" r="0.92"/><circle cx="221.59" cy="179.05" r="0.92"/><circle cx="219.46" cy="183.31" r="0.92"/><circle cx="223.72" cy="183.31" r="0.92"/><circle cx="217.34" cy="187.57" r="0.92"/><circle cx="221.59" cy="187.57" r="0.92"/><circle cx="219.46" cy="191.83" r="0.92"/><circle cx="223.72" cy="191.83" r="0.92"/><circle cx="217.34" cy="196.08" r="0.92"/><circle cx="221.59" cy="196.08" r="0.92"/><circle cx="219.46" cy="200.34" r="0.92"/><circle cx="223.72" cy="200.34" r="0.92"/><circle cx="217.34" cy="204.6" r="0.92"/><circle cx="221.59" cy="204.6" r="0.92"/><circle cx="219.46" cy="208.86" r="0.92"/><circle cx="223.72" cy="208.86" r="0.92"/><circle cx="217.34" cy="213.12" r="0.92"/><circle cx="221.59" cy="213.12" r="0.92"/><circle cx="219.46" cy="217.38" r="0.92"/><circle cx="223.72" cy="217.38" r="0.92"/><circle cx="217.34" cy="221.63" r="0.92"/><circle cx="221.59" cy="221.63" r="0.92"/><circle cx="219.46" cy="225.89" r="0.92"/><circle cx="223.72" cy="225.89" r="0.92"/><circle cx="217.34" cy="230.15" r="0.92"/><circle cx="221.59" cy="230.15" r="0.92"/></g><rect x="218.3" y="127.88" width="5.69" height="104.22" fill="none" stroke="#000" stroke-width="0.32"/><clipPath id="c21"><rect x="72.18" y="197.36" width="5.69" height="34.74"/></clipPath><rect x="72.18" y="197.36" width="5.69" height="34.74" fill="#ffa200"/><path d="M72.18 225.52L77.88 231.22M72.18 217.01L77.88 222.7M72.18 208.49L77.88 214.18M72.18 199.97L77.88 205.67" class="hl2" clip-path="url(#c21)"/><rect x="72.18" y="197.36" width="5.69" height="34.74" fill="none" stroke="#000" stroke-width="0.32"/><clipPath id="c22"><rect x="110.14" y="187.44" width="5.69" height="44.66"/></clipPath><rect x="110.14" y="187.44" width="5.69" height="44.66" fill="#ffa200"/><path d="M110.14 229.41L112.83 232.1M110.14 220.89L115.83 226.59M110.14 212.38L115.83 218.07M110.14 203.86L115.83 209.55M110.14 195.34L115.83 201.04M110.75 187.44L115.83 192.52" class="hl2" clip-path="url(#c22)"/><rect x="110.14" y="187.44" width="5.69" height="44.66" fill="none" stroke="#000" stroke-width="0.32"/><clipPath id="c23"><rect x="148.09" y="177.51" width="5.69" height="54.59"/></clipPath><rect x="148.09" y="177.51" width="5.69" height="54.59" fill="#ffa200"/><path d="M148.09 224.78L153.78 230.47M148.09 216.26L153.78 221.96M148.09 207.75L153.78 213.44M148.09 199.23L153.78 204.92M148.09 190.71L153.78 196.41M148.09 182.2L153.78 187.89M151.92 177.51L153.78 179.37" class="hl2" clip-path="url(#c23)"/><rect x="148.09" y="177.51" width="5.69" height="54.59" fill="none" stroke="#000" stroke-width="0.32"/><clipPath id="c24"><rect x="186.04" y="167.59" width="5.69" height="64.51"/></clipPath><rect x="186.04" y="167.59" width="5.69" height="64.51" fill="#ffa200"/><path d="M186.04 228.66L189.48 232.1M186.04 220.15L191.73 225.84M186.04 211.63L191.73 217.32M186.04 203.11L191.73 208.81M186.04 194.6L191.73 200.29M186.04 186.08L191.73 191.77M186.04 177.56L191.73 183.26M186.04 169.05L191.73 174.74" class="hl2" clip-path="url(#c24)"/><rect x="186.04" y="167.59" width="5.69" height="64.51" fill="none" stroke="#000" stroke-width="0.32"/><clipPath id="c25"><rect x="223.99" y="157.66" width="5.69" height="74.44"/></clipPath><rect x="223.99" y="157.66" width="5.69" height="74.44" fill="#ffa200"/><path d="M223.99 224.03L229.69 229.73M223.99 215.52L229.69 221.21M223.99 207L229.69 212.69M223.99 198.48L229.69 204.18M223.99 189.97L229.69 195.66M223.99 181.45L229.69 187.14M223.99 172.93L229.69 178.63M223.99 164.42L229.69 170.11M225.75 157.66L229.69 161.59" class="hl2" clip-path="url(#c25)"/><rect x="223.99" y="157.66" width="5.69" height="74.44" fill="none" stroke="#000" stroke-width="0.32"/><rect x="40.40" y="39.3" width="198.30" height="192.80" fill="none" stroke="#000" stroke-width="0.285"/><path d="M57.95 232.1v1.25" class="tk"/><text x="57.95" y="237.04" font-size="3.210" text-anchor="middle">100</text><path d="M95.91 232.1v1.25" class="tk"/><text x="95.91" y="237.04" font-size="3.210" text-anchor="middle">200</text><path d="M133.86 232.1v1.25" class="tk"/><text x="133.86" y="237.04" font-size="3.210" text-anchor="middle">300</text><path d="M171.81 232.1v1.25" class="tk"/><text x="171.81" y="237.04" font-size="3.210" text-anchor="middle">400</text><path d="M209.76 232.1v1.25" class="tk"/><text x="209.76" y="237.04" font-size="3.210" text-anchor="middle">500</text><path d="M40.40 232.10h-1.25" class="tk"/><text x="37.90" y="233.26" font-size="3.210" text-anchor="end">0.00</text><path d="M40.40 207.29h-1.25" class="tk"/><text x="37.90" y="208.44" font-size="3.210" text-anchor="end">0.05</text><path d="M40.40 182.47h-1.25" class="tk"/><text x="37.90" y="183.63" font-size="3.210" text-anchor="end">0.10</text><path d="M40.40 157.66h-1.25" class="tk"/><text x="37.90" y="158.82" font-size="3.210" text-anchor="end">0.15</text><path d="M40.40 132.85h-1.25" class="tk"/><text x="37.90" y="134.00" font-size="3.210" text-anchor="end">0.20</text><path d="M40.40 108.03h-1.25" class="tk"/><text x="37.90" y="109.19" font-size="3.210" text-anchor="end">0.25</text><path d="M40.40 83.22h-1.25" class="tk"/><text x="37.90" y="84.38" font-size="3.210" text-anchor="end">0.30</text><path d="M40.40 58.41h-1.25" class="tk"/><text x="37.90" y="59.56" font-size="3.210" text-anchor="end">0.35</text><text x="139.55" y="37.20" font-size="4.280" text-anchor="middle">Gnode_LC=3000 &amp; Gnode_SC=30000 file blocks</text><text x="139.55" y="243.60" font-size="5.351" text-anchor="middle">Number of file blocks in Dnode_LC of Dnodes</text><text transform="translate(25.90 135.00) rotate(-90)" font-size="5.351" text-anchor="middle">Dnode_LC Hit Ratio</text><rect x="42.18" y="40.50" width="33.32" height="28.90" rx="0.71" fill="#fff" fill-opacity="0.8" stroke="#d4d4d4" stroke-width="0.3"/><clipPath id="c26"><rect x="43.61" y="42.85" width="7.13" height="2.5"/></clipPath><rect x="43.61" y="42.85" width="7.13" height="2.5" fill="#8e8e8e"/><path d="M43.61 44.23L44.99 42.85M44.92 45.35L47.42 42.85M47.35 45.35L49.85 42.85M49.78 45.35L50.74 44.39" class="hg" clip-path="url(#c26)"/><rect x="43.61" y="42.85" width="7.13" height="2.5" fill="none" stroke="#000" stroke-width="0.5"/><text x="53.60" y="45.38" font-size="3.567">HRFP</text><clipPath id="c27"><rect x="43.61" y="48.27" width="7.13" height="2.5"/></clipPath><rect x="43.61" y="48.27" width="7.13" height="2.5" fill="#8a8a00"/><path d="M43.61 50.43L45.77 48.27M48.23 48.27L50.73 50.77" class="hl" clip-path="url(#c27)"/><rect x="43.61" y="48.27" width="7.13" height="2.5" fill="none" stroke="#000" stroke-width="0.5"/><text x="53.60" y="50.80" font-size="3.567">HRFP_LRU</text><clipPath id="c28"><rect x="43.61" y="53.69" width="7.13" height="2.5"/></clipPath><rect x="43.61" y="53.69" width="7.13" height="2.5" fill="#90ee90"/><g class="hd" clip-path="url(#c28)"><circle cx="44.87" cy="55.56" r="0.77"/><circle cx="49.13" cy="55.56" r="0.77"/></g><rect x="43.61" y="53.69" width="7.13" height="2.5" fill="none" stroke="#000" stroke-width="0.5"/><text x="53.60" y="56.22" font-size="3.567">SBFBAP</text><clipPath id="c29"><rect x="43.61" y="59.11" width="7.13" height="2.5"/></clipPath><rect x="43.61" y="59.11" width="7.13" height="2.5" fill="#ffff00"/><g class="ho" clip-path="url(#c29)"><circle cx="42.74" cy="59.82" r="0.92"/><circle cx="47" cy="59.82" r="0.92"/><circle cx="51.26" cy="59.82" r="0.92"/></g><rect x="43.61" y="59.11" width="7.13" height="2.5" fill="none" stroke="#000" stroke-width="0.5"/><text x="53.60" y="61.64" font-size="3.567">SBMS</text><clipPath id="c30"><rect x="43.61" y="64.53" width="7.13" height="2.5"/></clipPath><rect x="43.61" y="64.53" width="7.13" height="2.5" fill="#ffa200"/><path d="M47.46 64.53L49.96 67.03" class="hl2" clip-path="url(#c30)"/><rect x="43.61" y="64.53" width="7.13" height="2.5" fill="none" stroke="#000" stroke-width="0.5"/><text x="53.60" y="67.06" font-size="3.567">Dcache</text><text x="136.25" y="285.9" font-size="12.2" text-anchor="middle" class="cap">(<tspan font-weight="bold">a</tspan>)</text><rect x="283.1" y="4.4" width="263.40" height="263.30" fill="#fff" stroke="#727272" stroke-width="1.1"/><clipPath id="c31"><rect x="328.11" y="82.64" width="5.69" height="149.46"/></clipPath><rect x="328.11" y="82.64" width="5.69" height="149.46" fill="#acacac"/><path d="M328.11 83.8L329.27 82.64M328.11 86.23L331.7 82.64M328.11 88.66L333.81 82.96M328.11 91.09L333.81 85.39M328.11 93.52L333.81 87.82M328.11 95.95L333.81 90.25M328.11 98.38L333.81 92.68M328.11 100.81L333.81 95.11M328.11 103.24L333.81 97.54M328.11 105.67L333.81 99.97M328.11 108.1L333.81 102.4M328.11 110.53L333.81 104.83M328.11 112.96L333.81 107.26M328.11 115.39L333.81 109.69M328.11 117.82L333.81 112.12M328.11 120.25L333.81 114.55M328.11 122.68L333.81 116.98M328.11 125.11L333.81 119.41M328.11 127.54L333.81 121.84M328.11 129.97L333.81 124.27M328.11 132.4L333.81 126.7M328.11 134.83L333.81 129.13M328.11 137.26L333.81 131.56M328.11 139.69L333.81 133.99M328.11 142.12L333.81 136.42M328.11 144.55L333.81 138.85M328.11 146.98L333.81 141.28M328.11 149.41L333.81 143.71M328.11 151.84L333.81 146.14M328.11 154.27L333.81 148.57M328.11 156.7L333.81 151M328.11 159.13L333.81 153.43M328.11 161.56L333.81 155.86M328.11 163.99L333.81 158.29M328.11 166.42L333.81 160.72M328.11 168.85L333.81 163.15M328.11 171.28L333.81 165.58M328.11 173.71L333.81 168.01M328.11 176.14L333.81 170.44M328.11 178.57L333.81 172.87M328.11 181L333.81 175.3M328.11 183.43L333.81 177.73M328.11 185.86L333.81 180.16M328.11 188.29L333.81 182.59M328.11 190.72L333.81 185.02M328.11 193.15L333.81 187.45M328.11 195.58L333.81 189.88M328.11 198.01L333.81 192.31M328.11 200.44L333.81 194.74M328.11 202.87L333.81 197.17M328.11 205.3L333.81 199.6M328.11 207.73L333.81 202.03M328.11 210.16L333.81 204.46M328.11 212.59L333.81 206.89M328.11 215.02L333.81 209.32M328.11 217.45L333.81 211.75M328.11 219.88L333.81 214.18M328.11 222.31L333.81 216.61M328.11 224.74L333.81 219.04M328.11 227.17L333.81 221.47M328.11 229.6L333.81 223.9M328.11 232.03L333.81 226.33M330.47 232.1L333.81 228.76M332.9 232.1L333.81 231.19" class="hg" clip-path="url(#c31)"/><rect x="328.11" y="82.64" width="5.69" height="149.46" fill="none" stroke="#000" stroke-width="0.32"/><clipPath id="c32"><rect x="366.07" y="74.1" width="5.69" height="158"/></clipPath><rect x="366.07" y="74.1" width="5.69" height="158" fill="#acacac"/><path d="M366.07 75L366.97 74.1M366.07 77.43L369.4 74.1M366.07 79.86L371.76 74.17M366.07 82.29L371.76 76.6M366.07 84.72L371.76 79.03M366.07 87.15L371.76 81.46M366.07 89.58L371.76 83.89M366.07 92.01L371.76 86.32M366.07 94.44L371.76 88.75M366.07 96.87L371.76 91.18M366.07 99.3L371.76 93.61M366.07 101.73L371.76 96.04M366.07 104.16L371.76 98.47M366.07 106.59L371.76 100.9M366.07 109.02L371.76 103.33M366.07 111.45L371.76 105.76M366.07 113.88L371.76 108.19M366.07 116.31L371.76 110.62M366.07 118.74L371.76 113.05M366.07 121.17L371.76 115.48M366.07 123.6L371.76 117.91M366.07 126.03L371.76 120.34M366.07 128.46L371.76 122.77M366.07 130.89L371.76 125.2M366.07 133.32L371.76 127.63M366.07 135.75L371.76 130.06M366.07 138.18L371.76 132.49M366.07 140.61L371.76 134.92M366.07 143.04L371.76 137.35M366.07 145.47L371.76 139.78M366.07 147.9L371.76 142.21M366.07 150.33L371.76 144.64M366.07 152.76L371.76 147.07M366.07 155.19L371.76 149.5M366.07 157.62L371.76 151.93M366.07 160.05L371.76 154.36M366.07 162.48L371.76 156.79M366.07 164.91L371.76 159.22M366.07 167.34L371.76 161.65M366.07 169.77L371.76 164.08M366.07 172.2L371.76 166.51M366.07 174.63L371.76 168.94M366.07 177.06L371.76 171.37M366.07 179.49L371.76 173.8M366.07 181.92L371.76 176.23M366.07 184.35L371.76 178.66M366.07 186.78L371.76 181.09M366.07 189.21L371.76 183.52M366.07 191.64L371.76 185.95M366.07 194.07L371.76 188.38M366.07 196.5L371.76 190.81M366.07 198.93L371.76 193.24M366.07 201.36L371.76 195.67M366.07 203.79L371.76 198.1M366.07 206.22L371.76 200.53M366.07 208.65L371.76 202.96M366.07 211.08L371.76 205.39M366.07 213.51L371.76 207.82M366.07 215.94L371.76 210.25M366.07 218.37L371.76 212.68M366.07 220.8L371.76 215.11M366.07 223.23L371.76 217.54M366.07 225.66L371.76 219.97M366.07 228.09L371.76 222.4M366.07 230.52L371.76 224.83M366.92 232.1L371.76 227.26M369.35 232.1L371.76 229.69" class="hg" clip-path="url(#c32)"/><rect x="366.07" y="74.1" width="5.69" height="158" fill="none" stroke="#000" stroke-width="0.32"/><clipPath id="c33"><rect x="404.02" y="65.56" width="5.69" height="166.54"/></clipPath><rect x="404.02" y="65.56" width="5.69" height="166.54" fill="#acacac"/><path d="M404.02 66.21L404.67 65.56M404.02 68.64L407.1 65.56M404.02 71.07L409.53 65.56M404.02 73.5L409.71 67.81M404.02 75.93L409.71 70.24M404.02 78.36L409.71 72.67M404.02 80.79L409.71 75.1M404.02 83.22L409.71 77.53M404.02 85.65L409.71 79.96M404.02 88.08L409.71 82.39M404.02 90.51L409.71 84.82M404.02 92.94L409.71 87.25M404.02 95.37L409.71 89.68M404.02 97.8L409.71 92.11M404.02 100.23L409.71 94.54M404.02 102.66L409.71 96.97M404.02 105.09L409.71 99.4M404.02 107.52L409.71 101.83M404.02 109.95L409.71 104.26M404.02 112.38L409.71 106.69M404.02 114.81L409.71 109.12M404.02 117.24L409.71 111.55M404.02 119.67L409.71 113.98M404.02 122.1L409.71 116.41M404.02 124.53L409.71 118.84M404.02 126.96L409.71 121.27M404.02 129.39L409.71 123.7M404.02 131.82L409.71 126.13M404.02 134.25L409.71 128.56M404.02 136.68L409.71 130.99M404.02 139.11L409.71 133.42M404.02 141.54L409.71 135.85M404.02 143.97L409.71 138.28M404.02 146.4L409.71 140.71M404.02 148.83L409.71 143.14M404.02 151.26L409.71 145.57M404.02 153.69L409.71 148M404.02 156.12L409.71 150.43M404.02 158.55L409.71 152.86M404.02 160.98L409.71 155.29M404.02 163.41L409.71 157.72M404.02 165.84L409.71 160.15M404.02 168.27L409.71 162.58M404.02 170.7L409.71 165.01M404.02 173.13L409.71 167.44M404.02 175.56L409.71 169.87M404.02 177.99L409.71 172.3M404.02 180.42L409.71 174.73M404.02 182.85L409.71 177.16M404.02 185.28L409.71 179.59M404.02 187.71L409.71 182.02M404.02 190.14L409.71 184.45M404.02 192.57L409.71 186.88M404.02 195L409.71 189.31M404.02 197.43L409.71 191.74M404.02 199.86L409.71 194.17M404.02 202.29L409.71 196.6M404.02 204.72L409.71 199.03M404.02 207.15L409.71 201.46M404.02 209.58L409.71 203.89M404.02 212.01L409.71 206.32M404.02 214.44L409.71 208.75M404.02 216.87L409.71 211.18M404.02 219.3L409.71 213.61M404.02 221.73L409.71 216.04M404.02 224.16L409.71 218.47M404.02 226.59L409.71 220.9M404.02 229.02L409.71 223.33M404.02 231.45L409.71 225.76M405.8 232.1L409.71 228.19M408.23 232.1L409.71 230.62" class="hg" clip-path="url(#c33)"/><rect x="404.02" y="65.56" width="5.69" height="166.54" fill="none" stroke="#000" stroke-width="0.32"/><clipPath id="c34"><rect x="441.97" y="57.02" width="5.69" height="175.08"/></clipPath><rect x="441.97" y="57.02" width="5.69" height="175.08" fill="#acacac"/><path d="M441.97 57.42L442.37 57.02M441.97 59.85L444.8 57.02M441.97 62.28L447.23 57.02M441.97 64.71L447.66 59.02M441.97 67.14L447.66 61.45M441.97 69.57L447.66 63.88M441.97 72L447.66 66.31M441.97 74.43L447.66 68.74M441.97 76.86L447.66 71.17M441.97 79.29L447.66 73.6M441.97 81.72L447.66 76.03M441.97 84.15L447.66 78.46M441.97 86.58L447.66 80.89M441.97 89.01L447.66 83.32M441.97 91.44L447.66 85.75M441.97 93.87L447.66 88.18M441.97 96.3L447.66 90.61M441.97 98.73L447.66 93.04M441.97 101.16L447.66 95.47M441.97 103.59L447.66 97.9M441.97 106.02L447.66 100.33M441.97 108.45L447.66 102.76M441.97 110.88L447.66 105.19M441.97 113.31L447.66 107.62M441.97 115.74L447.66 110.05M441.97 118.17L447.66 112.48M441.97 120.6L447.66 114.91M441.97 123.03L447.66 117.34M441.97 125.46L447.66 119.77M441.97 127.89L447.66 122.2M441.97 130.32L447.66 124.63M441.97 132.75L447.66 127.06M441.97 135.18L447.66 129.49M441.97 137.61L447.66 131.92M441.97 140.04L447.66 134.35M441.97 142.47L447.66 136.78M441.97 144.9L447.66 139.21M441.97 147.33L447.66 141.64M441.97 149.76L447.66 144.07M441.97 152.19L447.66 146.5M441.97 154.62L447.66 148.93M441.97 157.05L447.66 151.36M441.97 159.48L447.66 153.79M441.97 161.91L447.66 156.22M441.97 164.34L447.66 158.65M441.97 166.77L447.66 161.08M441.97 169.2L447.66 163.51M441.97 171.63L447.66 165.94M441.97 174.06L447.66 168.37M441.97 176.49L447.66 170.8M441.97 178.92L447.66 173.23M441.97 181.35L447.66 175.66M441.97 183.78L447.66 178.09M441.97 186.21L447.66 180.52M441.97 188.64L447.66 182.95M441.97 191.07L447.66 185.38M441.97 193.5L447.66 187.81M441.97 195.93L447.66 190.24M441.97 198.36L447.66 192.67M441.97 200.79L447.66 195.1M441.97 203.22L447.66 197.53M441.97 205.65L447.66 199.96M441.97 208.08L447.66 202.39M441.97 210.51L447.66 204.82M441.97 212.94L447.66 207.25M441.97 215.37L447.66 209.68M441.97 217.8L447.66 212.11M441.97 220.23L447.66 214.54M441.97 222.66L447.66 216.97M441.97 225.09L447.66 219.4M441.97 227.52L447.66 221.83M441.97 229.95L447.66 224.26M442.25 232.1L447.66 226.69M444.68 232.1L447.66 229.12M447.11 232.1L447.66 231.55" class="hg" clip-path="url(#c34)"/><rect x="441.97" y="57.02" width="5.69" height="175.08" fill="none" stroke="#000" stroke-width="0.32"/><clipPath id="c35"><rect x="479.92" y="48.48" width="5.69" height="183.62"/></clipPath><rect x="479.92" y="48.48" width="5.69" height="183.62" fill="#acacac"/><path d="M479.92 48.63L480.07 48.48M479.92 51.06L482.5 48.48M479.92 53.49L484.93 48.48M479.92 55.92L485.62 50.22M479.92 58.35L485.62 52.65M479.92 60.78L485.62 55.08M479.92 63.21L485.62 57.51M479.92 65.64L485.62 59.94M479.92 68.07L485.62 62.37M479.92 70.5L485.62 64.8M479.92 72.93L485.62 67.23M479.92 75.36L485.62 69.66M479.92 77.79L485.62 72.09M479.92 80.22L485.62 74.52M479.92 82.65L485.62 76.95M479.92 85.08L485.62 79.38M479.92 87.51L485.62 81.81M479.92 89.94L485.62 84.24M479.92 92.37L485.62 86.67M479.92 94.8L485.62 89.1M479.92 97.23L485.62 91.53M479.92 99.66L485.62 93.96M479.92 102.09L485.62 96.39M479.92 104.52L485.62 98.82M479.92 106.95L485.62 101.25M479.92 109.38L485.62 103.68M479.92 111.81L485.62 106.11M479.92 114.24L485.62 108.54M479.92 116.67L485.62 110.97M479.92 119.1L485.62 113.4M479.92 121.53L485.62 115.83M479.92 123.96L485.62 118.26M479.92 126.39L485.62 120.69M479.92 128.82L485.62 123.12M479.92 131.25L485.62 125.55M479.92 133.68L485.62 127.98M479.92 136.11L485.62 130.41M479.92 138.54L485.62 132.84M479.92 140.97L485.62 135.27M479.92 143.4L485.62 137.7M479.92 145.83L485.62 140.13M479.92 148.26L485.62 142.56M479.92 150.69L485.62 144.99M479.92 153.12L485.62 147.42M479.92 155.55L485.62 149.85M479.92 157.98L485.62 152.28M479.92 160.41L485.62 154.71M479.92 162.84L485.62 157.14M479.92 165.27L485.62 159.57M479.92 167.7L485.62 162M479.92 170.13L485.62 164.43M479.92 172.56L485.62 166.86M479.92 174.99L485.62 169.29M479.92 177.42L485.62 171.72M479.92 179.85L485.62 174.15M479.92 182.28L485.62 176.58M479.92 184.71L485.62 179.01M479.92 187.14L485.62 181.44M479.92 189.57L485.62 183.87M479.92 192L485.62 186.3M479.92 194.43L485.62 188.73M479.92 196.86L485.62 191.16M479.92 199.29L485.62 193.59M479.92 201.72L485.62 196.02M479.92 204.15L485.62 198.45M479.92 206.58L485.62 200.88M479.92 209.01L485.62 203.31M479.92 211.44L485.62 205.74M479.92 213.87L485.62 208.17M479.92 216.3L485.62 210.6M479.92 218.73L485.62 213.03M479.92 221.16L485.62 215.46M479.92 223.59L485.62 217.89M479.92 226.02L485.62 220.32M479.92 228.45L485.62 222.75M479.92 230.88L485.62 225.18M481.13 232.1L485.62 227.61M483.56 232.1L485.62 230.04" class="hg" clip-path="url(#c35)"/><rect x="479.92" y="48.48" width="5.69" height="183.62" fill="none" stroke="#000" stroke-width="0.32"/><clipPath id="c36"><rect x="333.81" y="91.18" width="5.69" height="140.92"/></clipPath><rect x="333.81" y="91.18" width="5.69" height="140.92" fill="#8a8a00"/><path d="M333.81 98.13L339.5 92.43M333.81 106.64L339.5 100.95M333.81 115.16L339.5 109.47M333.81 123.68L339.5 117.98M333.81 132.19L339.5 126.5M333.81 140.71L339.5 135.02M333.81 149.23L339.5 143.53M333.81 157.74L339.5 152.05M333.81 166.26L339.5 160.57M333.81 174.78L339.5 169.08M333.81 183.29L339.5 177.6M333.81 191.81L339.5 186.12M333.81 200.33L339.5 194.63M333.81 208.84L339.5 203.15M333.81 217.36L339.5 211.67M333.81 225.88L339.5 220.18M336.1 232.1L339.5 228.7M333.81 225.31L339.5 231M333.81 216.79L339.5 222.48M333.81 208.27L339.5 213.97M333.81 199.76L339.5 205.45M333.81 191.24L339.5 196.93M333.81 182.72L339.5 188.42M333.81 174.21L339.5 179.9M333.81 165.69L339.5 171.38M333.81 157.17L339.5 162.87M333.81 148.66L339.5 154.35M333.81 140.14L339.5 145.83M333.81 131.62L339.5 137.32M333.81 123.11L339.5 128.8M333.81 114.59L339.5 120.28M333.81 106.07L339.5 111.77M333.81 97.56L339.5 103.25M335.95 91.18L339.5 94.73" class="hl" clip-path="url(#c36)"/><rect x="333.81" y="91.18" width="5.69" height="140.92" fill="none" stroke="#000" stroke-width="0.32"/><clipPath id="c37"><rect x="371.76" y="82.64" width="5.69" height="149.46"/></clipPath><rect x="371.76" y="82.64" width="5.69" height="149.46" fill="#8a8a00"/><path d="M371.76 85.72L374.84 82.64M371.76 94.24L377.45 88.55M371.76 102.76L377.45 97.07M371.76 111.27L377.45 105.58M371.76 119.79L377.45 114.1M371.76 128.31L377.45 122.62M371.76 136.82L377.45 131.13M371.76 145.34L377.45 139.65M371.76 153.86L377.45 148.17M371.76 162.37L377.45 156.68M371.76 170.89L377.45 165.2M371.76 179.41L377.45 173.72M371.76 187.92L377.45 182.23M371.76 196.44L377.45 190.75M371.76 204.96L377.45 199.27M371.76 213.47L377.45 207.78M371.76 221.99L377.45 216.3M371.76 230.51L377.45 224.82M371.76 229.19L374.67 232.1M371.76 220.68L377.45 226.37M371.76 212.16L377.45 217.85M371.76 203.64L377.45 209.33M371.76 195.13L377.45 200.82M371.76 186.61L377.45 192.3M371.76 178.09L377.45 183.78M371.76 169.58L377.45 175.27M371.76 161.06L377.45 166.75M371.76 152.54L377.45 158.23M371.76 144.03L377.45 149.72M371.76 135.51L377.45 141.2M371.76 126.99L377.45 132.68M371.76 118.48L377.45 124.17M371.76 109.96L377.45 115.65M371.76 101.44L377.45 107.13M371.76 92.93L377.45 98.62M371.76 84.41L377.45 90.1" class="hl" clip-path="url(#c37)"/><rect x="371.76" y="82.64" width="5.69" height="149.46" fill="none" stroke="#000" stroke-width="0.32"/><clipPath id="c38"><rect x="409.71" y="74.1" width="5.69" height="158"/></clipPath><rect x="409.71" y="74.1" width="5.69" height="158" fill="#8a8a00"/><path d="M409.71 81.84L415.4 76.15M409.71 90.36L415.4 84.66M409.71 98.87L415.4 93.18M409.71 107.39L415.4 101.7M409.71 115.91L415.4 110.21M409.71 124.42L415.4 118.73M409.71 132.94L415.4 127.25M409.71 141.46L415.4 135.76M409.71 149.97L415.4 144.28M409.71 158.49L415.4 152.8M409.71 167.01L415.4 161.31M409.71 175.52L415.4 169.83M409.71 184.04L415.4 178.35M409.71 192.56L415.4 186.86M409.71 201.07L415.4 195.38M409.71 209.59L415.4 203.9M409.71 218.11L415.4 212.41M409.71 226.62L415.4 220.93M412.75 232.1L415.4 229.45M409.71 224.56L415.4 230.25M409.71 216.04L415.4 221.74M409.71 207.53L415.4 213.22M409.71 199.01L415.4 204.7M409.71 190.49L415.4 196.19M409.71 181.98L415.4 187.67M409.71 173.46L415.4 179.15M409.71 164.94L415.4 170.64M409.71 156.43L415.4 162.12M409.71 147.91L415.4 153.6M409.71 139.39L415.4 145.09M409.71 130.88L415.4 136.57M409.71 122.36L415.4 128.05M409.71 113.84L415.4 119.54M409.71 105.33L415.4 111.02M409.71 96.81L415.4 102.5M409.71 88.29L415.4 93.99M409.71 79.78L415.4 85.47M412.55 74.1L415.4 76.95" class="hl" clip-path="url(#c38)"/><rect x="409.71" y="74.1" width="5.69" height="158" fill="none" stroke="#000" stroke-width="0.32"/><clipPath id="c39"><rect x="447.66" y="65.56" width="5.69" height="166.54"/></clipPath><rect x="447.66" y="65.56" width="5.69" height="166.54" fill="#8a8a00"/><path d="M447.66 69.44L451.54 65.56M447.66 77.95L453.36 72.26M447.66 86.47L453.36 80.78M447.66 94.99L453.36 89.29M447.66 103.5L453.36 97.81M447.66 112.02L453.36 106.33M447.66 120.54L453.36 114.84M447.66 129.05L453.36 123.36M447.66 137.57L453.36 131.88M447.66 146.09L453.36 140.39M447.66 154.6L453.36 148.91M447.66 163.12L453.36 157.43M447.66 171.64L453.36 165.94M447.66 180.15L453.36 174.46M447.66 188.67L453.36 182.98M447.66 197.19L453.36 191.49M447.66 205.7L453.36 200.01M447.66 214.22L453.36 208.53M447.66 222.74L453.36 217.04M447.66 231.25L453.36 225.56M447.66 228.45L451.32 232.1M447.66 219.93L453.36 225.62M447.66 211.41L453.36 217.11M447.66 202.9L453.36 208.59M447.66 194.38L453.36 200.07M447.66 185.86L453.36 191.56M447.66 177.35L453.36 183.04M447.66 168.83L453.36 174.52M447.66 160.31L453.36 166.01M447.66 151.8L453.36 157.49M447.66 143.28L453.36 148.97M447.66 134.76L453.36 140.46M447.66 126.25L453.36 131.94M447.66 117.73L453.36 123.42M447.66 109.21L453.36 114.91M447.66 100.7L453.36 106.39M447.66 92.18L453.36 97.87M447.66 83.66L453.36 89.36M447.66 75.15L453.36 80.84M447.66 66.63L453.36 72.32" class="hl" clip-path="url(#c39)"/><rect x="447.66" y="65.56" width="5.69" height="166.54" fill="none" stroke="#000" stroke-width="0.32"/><clipPath id="c40"><rect x="485.62" y="57.02" width="5.69" height="175.08"/></clipPath><rect x="485.62" y="57.02" width="5.69" height="175.08" fill="#8a8a00"/><path d="M485.62 57.03L485.63 57.02M485.62 65.55L491.31 59.86M485.62 74.07L491.31 68.38M485.62 82.58L491.31 76.89M485.62 91.1L491.31 85.41M485.62 99.62L491.31 93.93M485.62 108.13L491.31 102.44M485.62 116.65L491.31 110.96M485.62 125.17L491.31 119.48M485.62 133.68L491.31 127.99M485.62 142.2L491.31 136.51M485.62 150.72L491.31 145.03M485.62 159.23L491.31 153.54M485.62 167.75L491.31 162.06M485.62 176.27L491.31 170.58M485.62 184.78L491.31 179.09M485.62 193.3L491.31 187.61M485.62 201.82L491.31 196.13M485.62 210.33L491.31 204.64M485.62 218.85L491.31 213.16M485.62 227.37L491.31 221.68M489.4 232.1L491.31 230.19M485.62 223.82L491.31 229.51M485.62 215.3L491.31 220.99M485.62 206.78L491.31 212.47M485.62 198.27L491.31 203.96M485.62 189.75L491.31 195.44M485.62 181.23L491.31 186.92M485.62 172.72L491.31 178.41M485.62 164.2L491.31 169.89M485.62 155.68L491.31 161.37M485.62 147.17L491.31 152.86M485.62 138.65L491.31 144.34M485.62 130.13L491.31 135.82M485.62 121.62L491.31 127.31M485.62 113.1L491.31 118.79M485.62 104.58L491.31 110.27M485.62 96.07L491.31 101.76M485.62 87.55L491.31 93.24M485.62 79.03L491.31 84.72M485.62 70.52L491.31 76.21M485.62 62L491.31 67.69M489.15 57.02L491.31 59.17" class="hl" clip-path="url(#c40)"/><rect x="485.62" y="57.02" width="5.69" height="175.08" fill="none" stroke="#000" stroke-width="0.32"/><clipPath id="c41"><rect x="339.5" y="116.8" width="5.69" height="115.3"/></clipPath><rect x="339.5" y="116.8" width="5.69" height="115.3" fill="#90ee90"/><g class="hd" clip-path="url(#c41)"><circle cx="338.35" cy="119.13" r="0.77"/><circle cx="342.61" cy="119.13" r="0.77"/><circle cx="340.48" cy="123.39" r="0.77"/><circle cx="344.74" cy="123.39" r="0.77"/><circle cx="338.35" cy="127.65" r="0.77"/><circle cx="342.61" cy="127.65" r="0.77"/><circle cx="340.48" cy="131.91" r="0.77"/><circle cx="344.74" cy="131.91" r="0.77"/><circle cx="338.35" cy="136.17" r="0.77"/><circle cx="342.61" cy="136.17" r="0.77"/><circle cx="340.48" cy="140.43" r="0.77"/><circle cx="344.74" cy="140.43" r="0.77"/><circle cx="338.35" cy="144.68" r="0.77"/><circle cx="342.61" cy="144.68" r="0.77"/><circle cx="340.48" cy="148.94" r="0.77"/><circle cx="344.74" cy="148.94" r="0.77"/><circle cx="338.35" cy="153.2" r="0.77"/><circle cx="342.61" cy="153.2" r="0.77"/><circle cx="340.48" cy="157.46" r="0.77"/><circle cx="344.74" cy="157.46" r="0.77"/><circle cx="338.35" cy="161.72" r="0.77"/><circle cx="342.61" cy="161.72" r="0.77"/><circle cx="340.48" cy="165.98" r="0.77"/><circle cx="344.74" cy="165.98" r="0.77"/><circle cx="338.35" cy="170.23" r="0.77"/><circle cx="342.61" cy="170.23" r="0.77"/><circle cx="340.48" cy="174.49" r="0.77"/><circle cx="344.74" cy="174.49" r="0.77"/><circle cx="338.35" cy="178.75" r="0.77"/><circle cx="342.61" cy="178.75" r="0.77"/><circle cx="340.48" cy="183.01" r="0.77"/><circle cx="344.74" cy="183.01" r="0.77"/><circle cx="338.35" cy="187.27" r="0.77"/><circle cx="342.61" cy="187.27" r="0.77"/><circle cx="340.48" cy="191.53" r="0.77"/><circle cx="344.74" cy="191.53" r="0.77"/><circle cx="338.35" cy="195.78" r="0.77"/><circle cx="342.61" cy="195.78" r="0.77"/><circle cx="340.48" cy="200.04" r="0.77"/><circle cx="344.74" cy="200.04" r="0.77"/><circle cx="338.35" cy="204.3" r="0.77"/><circle cx="342.61" cy="204.3" r="0.77"/><circle cx="340.48" cy="208.56" r="0.77"/><circle cx="344.74" cy="208.56" r="0.77"/><circle cx="338.35" cy="212.82" r="0.77"/><circle cx="342.61" cy="212.82" r="0.77"/><circle cx="340.48" cy="217.08" r="0.77"/><circle cx="344.74" cy="217.08" r="0.77"/><circle cx="338.35" cy="221.33" r="0.77"/><circle cx="342.61" cy="221.33" r="0.77"/><circle cx="340.48" cy="225.59" r="0.77"/><circle cx="344.74" cy="225.59" r="0.77"/><circle cx="338.35" cy="229.85" r="0.77"/><circle cx="342.61" cy="229.85" r="0.77"/></g><rect x="339.5" y="116.8" width="5.69" height="115.3" fill="none" stroke="#000" stroke-width="0.32"/><clipPath id="c42"><rect x="377.45" y="108.26" width="5.69" height="123.84"/></clipPath><rect x="377.45" y="108.26" width="5.69" height="123.84" fill="#90ee90"/><g class="hd" clip-path="url(#c42)"><circle cx="376.68" cy="110.62" r="0.77"/><circle cx="380.93" cy="110.62" r="0.77"/><circle cx="378.8" cy="114.88" r="0.77"/><circle cx="383.06" cy="114.88" r="0.77"/><circle cx="376.68" cy="119.13" r="0.77"/><circle cx="380.93" cy="119.13" r="0.77"/><circle cx="378.8" cy="123.39" r="0.77"/><circle cx="383.06" cy="123.39" r="0.77"/><circle cx="376.68" cy="127.65" r="0.77"/><circle cx="380.93" cy="127.65" r="0.77"/><circle cx="378.8" cy="131.91" r="0.77"/><circle cx="383.06" cy="131.91" r="0.77"/><circle cx="376.68" cy="136.17" r="0.77"/><circle cx="380.93" cy="136.17" r="0.77"/><circle cx="378.8" cy="140.43" r="0.77"/><circle cx="383.06" cy="140.43" r="0.77"/><circle cx="376.68" cy="144.68" r="0.77"/><circle cx="380.93" cy="144.68" r="0.77"/><circle cx="378.8" cy="148.94" r="0.77"/><circle cx="383.06" cy="148.94" r="0.77"/><circle cx="376.68" cy="153.2" r="0.77"/><circle cx="380.93" cy="153.2" r="0.77"/><circle cx="378.8" cy="157.46" r="0.77"/><circle cx="383.06" cy="157.46" r="0.77"/><circle cx="376.68" cy="161.72" r="0.77"/><circle cx="380.93" cy="161.72" r="0.77"/><circle cx="378.8" cy="165.98" r="0.77"/><circle cx="383.06" cy="165.98" r="0.77"/><circle cx="376.68" cy="170.23" r="0.77"/><circle cx="380.93" cy="170.23" r="0.77"/><circle cx="378.8" cy="174.49" r="0.77"/><circle cx="383.06" cy="174.49" r="0.77"/><circle cx="376.68" cy="178.75" r="0.77"/><circle cx="380.93" cy="178.75" r="0.77"/><circle cx="378.8" cy="183.01" r="0.77"/><circle cx="383.06" cy="183.01" r="0.77"/><circle cx="376.68" cy="187.27" r="0.77"/><circle cx="380.93" cy="187.27" r="0.77"/><circle cx="378.8" cy="191.53" r="0.77"/><circle cx="383.06" cy="191.53" r="0.77"/><circle cx="376.68" cy="195.78" r="0.77"/><circle cx="380.93" cy="195.78" r="0.77"/><circle cx="378.8" cy="200.04" r="0.77"/><circle cx="383.06" cy="200.04" r="0.77"/><circle cx="376.68" cy="204.3" r="0.77"/><circle cx="380.93" cy="204.3" r="0.77"/><circle cx="378.8" cy="208.56" r="0.77"/><circle cx="383.06" cy="208.56" r="0.77"/><circle cx="376.68" cy="212.82" r="0.77"/><circle cx="380.93" cy="212.82" r="0.77"/><circle cx="378.8" cy="217.08" r="0.77"/><circle cx="383.06" cy="217.08" r="0.77"/><circle cx="376.68" cy="221.33" r="0.77"/><circle cx="380.93" cy="221.33" r="0.77"/><circle cx="378.8" cy="225.59" r="0.77"/><circle cx="383.06" cy="225.59" r="0.77"/><circle cx="376.68" cy="229.85" r="0.77"/><circle cx="380.93" cy="229.85" r="0.77"/></g><rect x="377.45" y="108.26" width="5.69" height="123.84" fill="none" stroke="#000" stroke-width="0.32"/><clipPath id="c43"><rect x="415.4" y="99.72" width="5.69" height="132.38"/></clipPath><rect x="415.4" y="99.72" width="5.69" height="132.38" fill="#90ee90"/><g class="hd" clip-path="url(#c43)"><circle cx="415" cy="102.1" r="0.77"/><circle cx="419.26" cy="102.1" r="0.77"/><circle cx="417.13" cy="106.36" r="0.77"/><circle cx="421.39" cy="106.36" r="0.77"/><circle cx="415" cy="110.62" r="0.77"/><circle cx="419.26" cy="110.62" r="0.77"/><circle cx="417.13" cy="114.88" r="0.77"/><circle cx="421.39" cy="114.88" r="0.77"/><circle cx="415" cy="119.13" r="0.77"/><circle cx="419.26" cy="119.13" r="0.77"/><circle cx="417.13" cy="123.39" r="0.77"/><circle cx="421.39" cy="123.39" r="0.77"/><circle cx="415" cy="127.65" r="0.77"/><circle cx="419.26" cy="127.65" r="0.77"/><circle cx="417.13" cy="131.91" r="0.77"/><circle cx="421.39" cy="131.91" r="0.77"/><circle cx="415" cy="136.17" r="0.77"/><circle cx="419.26" cy="136.17" r="0.77"/><circle cx="417.13" cy="140.43" r="0.77"/><circle cx="421.39" cy="140.43" r="0.77"/><circle cx="415" cy="144.68" r="0.77"/><circle cx="419.26" cy="144.68" r="0.77"/><circle cx="417.13" cy="148.94" r="0.77"/><circle cx="421.39" cy="148.94" r="0.77"/><circle cx="415" cy="153.2" r="0.77"/><circle cx="419.26" cy="153.2" r="0.77"/><circle cx="417.13" cy="157.46" r="0.77"/><circle cx="421.39" cy="157.46" r="0.77"/><circle cx="415" cy="161.72" r="0.77"/><circle cx="419.26" cy="161.72" r="0.77"/><circle cx="417.13" cy="165.98" r="0.77"/><circle cx="421.39" cy="165.98" r="0.77"/><circle cx="415" cy="170.23" r="0.77"/><circle cx="419.26" cy="170.23" r="0.77"/><circle cx="417.13" cy="174.49" r="0.77"/><circle cx="421.39" cy="174.49" r="0.77"/><circle cx="415" cy="178.75" r="0.77"/><circle cx="419.26" cy="178.75" r="0.77"/><circle cx="417.13" cy="183.01" r="0.77"/><circle cx="421.39" cy="183.01" r="0.77"/><circle cx="415" cy="187.27" r="0.77"/><circle cx="419.26" cy="187.27" r="0.77"/><circle cx="417.13" cy="191.53" r="0.77"/><circle cx="421.39" cy="191.53" r="0.77"/><circle cx="415" cy="195.78" r="0.77"/><circle cx="419.26" cy="195.78" r="0.77"/><circle cx="417.13" cy="200.04" r="0.77"/><circle cx="421.39" cy="200.04" r="0.77"/><circle cx="415" cy="204.3" r="0.77"/><circle cx="419.26" cy="204.3" r="0.77"/><circle cx="417.13" cy="208.56" r="0.77"/><circle cx="421.39" cy="208.56" r="0.77"/><circle cx="415" cy="212.82" r="0.77"/><circle cx="419.26" cy="212.82" r="0.77"/><circle cx="417.13" cy="217.08" r="0.77"/><circle cx="421.39" cy="217.08" r="0.77"/><circle cx="415" cy="221.33" r="0.77"/><circle cx="419.26" cy="221.33" r="0.77"/><circle cx="417.13" cy="225.59" r="0.77"/><circle cx="421.39" cy="225.59" r="0.77"/><circle cx="415" cy="229.85" r="0.77"/><circle cx="419.26" cy="229.85" r="0.77"/></g><rect x="415.4" y="99.72" width="5.69" height="132.38" fill="none" stroke="#000" stroke-width="0.32"/><clipPath id="c44"><rect x="453.36" y="91.18" width="5.69" height="140.92"/></clipPath><rect x="453.36" y="91.18" width="5.69" height="140.92" fill="#90ee90"/><g class="hd" clip-path="url(#c44)"><circle cx="453.33" cy="93.58" r="0.77"/><circle cx="457.58" cy="93.58" r="0.77"/><circle cx="455.45" cy="97.84" r="0.77"/><circle cx="459.71" cy="97.84" r="0.77"/><circle cx="453.33" cy="102.1" r="0.77"/><circle cx="457.58" cy="102.1" r="0.77"/><circle cx="455.45" cy="106.36" r="0.77"/><circle cx="459.71" cy="106.36" r="0.77"/><circle cx="453.33" cy="110.62" r="0.77"/><circle cx="457.58" cy="110.62" r="0.77"/><circle cx="455.45" cy="114.88" r="0.77"/><circle cx="459.71" cy="114.88" r="0.77"/><circle cx="453.33" cy="119.13" r="0.77"/><circle cx="457.58" cy="119.13" r="0.77"/><circle cx="455.45" cy="123.39" r="0.77"/><circle cx="459.71" cy="123.39" r="0.77"/><circle cx="453.33" cy="127.65" r="0.77"/><circle cx="457.58" cy="127.65" r="0.77"/><circle cx="455.45" cy="131.91" r="0.77"/><circle cx="459.71" cy="131.91" r="0.77"/><circle cx="453.33" cy="136.17" r="0.77"/><circle cx="457.58" cy="136.17" r="0.77"/><circle cx="455.45" cy="140.43" r="0.77"/><circle cx="459.71" cy="140.43" r="0.77"/><circle cx="453.33" cy="144.68" r="0.77"/><circle cx="457.58" cy="144.68" r="0.77"/><circle cx="455.45" cy="148.94" r="0.77"/><circle cx="459.71" cy="148.94" r="0.77"/><circle cx="453.33" cy="153.2" r="0.77"/><circle cx="457.58" cy="153.2" r="0.77"/><circle cx="455.45" cy="157.46" r="0.77"/><circle cx="459.71" cy="157.46" r="0.77"/><circle cx="453.33" cy="161.72" r="0.77"/><circle cx="457.58" cy="161.72" r="0.77"/><circle cx="455.45" cy="165.98" r="0.77"/><circle cx="459.71" cy="165.98" r="0.77"/><circle cx="453.33" cy="170.23" r="0.77"/><circle cx="457.58" cy="170.23" r="0.77"/><circle cx="455.45" cy="174.49" r="0.77"/><circle cx="459.71" cy="174.49" r="0.77"/><circle cx="453.33" cy="178.75" r="0.77"/><circle cx="457.58" cy="178.75" r="0.77"/><circle cx="455.45" cy="183.01" r="0.77"/><circle cx="459.71" cy="183.01" r="0.77"/><circle cx="453.33" cy="187.27" r="0.77"/><circle cx="457.58" cy="187.27" r="0.77"/><circle cx="455.45" cy="191.53" r="0.77"/><circle cx="459.71" cy="191.53" r="0.77"/><circle cx="453.33" cy="195.78" r="0.77"/><circle cx="457.58" cy="195.78" r="0.77"/><circle cx="455.45" cy="200.04" r="0.77"/><circle cx="459.71" cy="200.04" r="0.77"/><circle cx="453.33" cy="204.3" r="0.77"/><circle cx="457.58" cy="204.3" r="0.77"/><circle cx="455.45" cy="208.56" r="0.77"/><circle cx="459.71" cy="208.56" r="0.77"/><circle cx="453.33" cy="212.82" r="0.77"/><circle cx="457.58" cy="212.82" r="0.77"/><circle cx="455.45" cy="217.08" r="0.77"/><circle cx="459.71" cy="217.08" r="0.77"/><circle cx="453.33" cy="221.33" r="0.77"/><circle cx="457.58" cy="221.33" r="0.77"/><circle cx="455.45" cy="225.59" r="0.77"/><circle cx="459.71" cy="225.59" r="0.77"/><circle cx="453.33" cy="229.85" r="0.77"/><circle cx="457.58" cy="229.85" r="0.77"/></g><rect x="453.36" y="91.18" width="5.69" height="140.92" fill="none" stroke="#000" stroke-width="0.32"/><clipPath id="c45"><rect x="491.31" y="82.64" width="5.69" height="149.46"/></clipPath><rect x="491.31" y="82.64" width="5.69" height="149.46" fill="#90ee90"/><g class="hd" clip-path="url(#c45)"><circle cx="491.65" cy="85.07" r="0.77"/><circle cx="495.91" cy="85.07" r="0.77"/><circle cx="493.78" cy="89.33" r="0.77"/><circle cx="498.04" cy="89.33" r="0.77"/><circle cx="491.65" cy="93.58" r="0.77"/><circle cx="495.91" cy="93.58" r="0.77"/><circle cx="493.78" cy="97.84" r="0.77"/><circle cx="498.04" cy="97.84" r="0.77"/><circle cx="491.65" cy="102.1" r="0.77"/><circle cx="495.91" cy="102.1" r="0.77"/><circle cx="493.78" cy="106.36" r="0.77"/><circle cx="498.04" cy="106.36" r="0.77"/><circle cx="491.65" cy="110.62" r="0.77"/><circle cx="495.91" cy="110.62" r="0.77"/><circle cx="493.78" cy="114.88" r="0.77"/><circle cx="498.04" cy="114.88" r="0.77"/><circle cx="491.65" cy="119.13" r="0.77"/><circle cx="495.91" cy="119.13" r="0.77"/><circle cx="493.78" cy="123.39" r="0.77"/><circle cx="498.04" cy="123.39" r="0.77"/><circle cx="491.65" cy="127.65" r="0.77"/><circle cx="495.91" cy="127.65" r="0.77"/><circle cx="493.78" cy="131.91" r="0.77"/><circle cx="498.04" cy="131.91" r="0.77"/><circle cx="491.65" cy="136.17" r="0.77"/><circle cx="495.91" cy="136.17" r="0.77"/><circle cx="493.78" cy="140.43" r="0.77"/><circle cx="498.04" cy="140.43" r="0.77"/><circle cx="491.65" cy="144.68" r="0.77"/><circle cx="495.91" cy="144.68" r="0.77"/><circle cx="493.78" cy="148.94" r="0.77"/><circle cx="498.04" cy="148.94" r="0.77"/><circle cx="491.65" cy="153.2" r="0.77"/><circle cx="495.91" cy="153.2" r="0.77"/><circle cx="493.78" cy="157.46" r="0.77"/><circle cx="498.04" cy="157.46" r="0.77"/><circle cx="491.65" cy="161.72" r="0.77"/><circle cx="495.91" cy="161.72" r="0.77"/><circle cx="493.78" cy="165.98" r="0.77"/><circle cx="498.04" cy="165.98" r="0.77"/><circle cx="491.65" cy="170.23" r="0.77"/><circle cx="495.91" cy="170.23" r="0.77"/><circle cx="493.78" cy="174.49" r="0.77"/><circle cx="498.04" cy="174.49" r="0.77"/><circle cx="491.65" cy="178.75" r="0.77"/><circle cx="495.91" cy="178.75" r="0.77"/><circle cx="493.78" cy="183.01" r="0.77"/><circle cx="498.04" cy="183.01" r="0.77"/><circle cx="491.65" cy="187.27" r="0.77"/><circle cx="495.91" cy="187.27" r="0.77"/><circle cx="493.78" cy="191.53" r="0.77"/><circle cx="498.04" cy="191.53" r="0.77"/><circle cx="491.65" cy="195.78" r="0.77"/><circle cx="495.91" cy="195.78" r="0.77"/><circle cx="493.78" cy="200.04" r="0.77"/><circle cx="498.04" cy="200.04" r="0.77"/><circle cx="491.65" cy="204.3" r="0.77"/><circle cx="495.91" cy="204.3" r="0.77"/><circle cx="493.78" cy="208.56" r="0.77"/><circle cx="498.04" cy="208.56" r="0.77"/><circle cx="491.65" cy="212.82" r="0.77"/><circle cx="495.91" cy="212.82" r="0.77"/><circle cx="493.78" cy="217.08" r="0.77"/><circle cx="498.04" cy="217.08" r="0.77"/><circle cx="491.65" cy="221.33" r="0.77"/><circle cx="495.91" cy="221.33" r="0.77"/><circle cx="493.78" cy="225.59" r="0.77"/><circle cx="498.04" cy="225.59" r="0.77"/><circle cx="491.65" cy="229.85" r="0.77"/><circle cx="495.91" cy="229.85" r="0.77"/></g><rect x="491.31" y="82.64" width="5.69" height="149.46" fill="none" stroke="#000" stroke-width="0.32"/><clipPath id="c46"><rect x="345.19" y="142.43" width="5.69" height="89.67"/></clipPath><rect x="345.19" y="142.43" width="5.69" height="89.67" fill="#ffff00"/><g class="ho" clip-path="url(#c46)"><circle cx="346.87" cy="144.68" r="0.92"/><circle cx="351.12" cy="144.68" r="0.92"/><circle cx="344.74" cy="148.94" r="0.92"/><circle cx="349" cy="148.94" r="0.92"/><circle cx="346.87" cy="153.2" r="0.92"/><circle cx="351.12" cy="153.2" r="0.92"/><circle cx="344.74" cy="157.46" r="0.92"/><circle cx="349" cy="157.46" r="0.92"/><circle cx="346.87" cy="161.72" r="0.92"/><circle cx="351.12" cy="161.72" r="0.92"/><circle cx="344.74" cy="165.98" r="0.92"/><circle cx="349" cy="165.98" r="0.92"/><circle cx="346.87" cy="170.23" r="0.92"/><circle cx="351.12" cy="170.23" r="0.92"/><circle cx="344.74" cy="174.49" r="0.92"/><circle cx="349" cy="174.49" r="0.92"/><circle cx="346.87" cy="178.75" r="0.92"/><circle cx="351.12" cy="178.75" r="0.92"/><circle cx="344.74" cy="183.01" r="0.92"/><circle cx="349" cy="183.01" r="0.92"/><circle cx="346.87" cy="187.27" r="0.92"/><circle cx="351.12" cy="187.27" r="0.92"/><circle cx="344.74" cy="191.53" r="0.92"/><circle cx="349" cy="191.53" r="0.92"/><circle cx="346.87" cy="195.78" r="0.92"/><circle cx="351.12" cy="195.78" r="0.92"/><circle cx="344.74" cy="200.04" r="0.92"/><circle cx="349" cy="200.04" r="0.92"/><circle cx="346.87" cy="204.3" r="0.92"/><circle cx="351.12" cy="204.3" r="0.92"/><circle cx="344.74" cy="208.56" r="0.92"/><circle cx="349" cy="208.56" r="0.92"/><circle cx="346.87" cy="212.82" r="0.92"/><circle cx="351.12" cy="212.82" r="0.92"/><circle cx="344.74" cy="217.08" r="0.92"/><circle cx="349" cy="217.08" r="0.92"/><circle cx="346.87" cy="221.33" r="0.92"/><circle cx="351.12" cy="221.33" r="0.92"/><circle cx="344.74" cy="225.59" r="0.92"/><circle cx="349" cy="225.59" r="0.92"/><circle cx="346.87" cy="229.85" r="0.92"/><circle cx="351.12" cy="229.85" r="0.92"/></g><rect x="345.19" y="142.43" width="5.69" height="89.67" fill="none" stroke="#000" stroke-width="0.32"/><clipPath id="c47"><rect x="383.14" y="133.89" width="5.69" height="98.21"/></clipPath><rect x="383.14" y="133.89" width="5.69" height="98.21" fill="#ffff00"/><g class="ho" clip-path="url(#c47)"><circle cx="385.19" cy="136.17" r="0.92"/><circle cx="389.45" cy="136.17" r="0.92"/><circle cx="383.06" cy="140.43" r="0.92"/><circle cx="387.32" cy="140.43" r="0.92"/><circle cx="385.19" cy="144.68" r="0.92"/><circle cx="389.45" cy="144.68" r="0.92"/><circle cx="383.06" cy="148.94" r="0.92"/><circle cx="387.32" cy="148.94" r="0.92"/><circle cx="385.19" cy="153.2" r="0.92"/><circle cx="389.45" cy="153.2" r="0.92"/><circle cx="383.06" cy="157.46" r="0.92"/><circle cx="387.32" cy="157.46" r="0.92"/><circle cx="385.19" cy="161.72" r="0.92"/><circle cx="389.45" cy="161.72" r="0.92"/><circle cx="383.06" cy="165.98" r="0.92"/><circle cx="387.32" cy="165.98" r="0.92"/><circle cx="385.19" cy="170.23" r="0.92"/><circle cx="389.45" cy="170.23" r="0.92"/><circle cx="383.06" cy="174.49" r="0.92"/><circle cx="387.32" cy="174.49" r="0.92"/><circle cx="385.19" cy="178.75" r="0.92"/><circle cx="389.45" cy="178.75" r="0.92"/><circle cx="383.06" cy="183.01" r="0.92"/><circle cx="387.32" cy="183.01" r="0.92"/><circle cx="385.19" cy="187.27" r="0.92"/><circle cx="389.45" cy="187.27" r="0.92"/><circle cx="383.06" cy="191.53" r="0.92"/><circle cx="387.32" cy="191.53" r="0.92"/><circle cx="385.19" cy="195.78" r="0.92"/><circle cx="389.45" cy="195.78" r="0.92"/><circle cx="383.06" cy="200.04" r="0.92"/><circle cx="387.32" cy="200.04" r="0.92"/><circle cx="385.19" cy="204.3" r="0.92"/><circle cx="389.45" cy="204.3" r="0.92"/><circle cx="383.06" cy="208.56" r="0.92"/><circle cx="387.32" cy="208.56" r="0.92"/><circle cx="385.19" cy="212.82" r="0.92"/><circle cx="389.45" cy="212.82" r="0.92"/><circle cx="383.06" cy="217.08" r="0.92"/><circle cx="387.32" cy="217.08" r="0.92"/><circle cx="385.19" cy="221.33" r="0.92"/><circle cx="389.45" cy="221.33" r="0.92"/><circle cx="383.06" cy="225.59" r="0.92"/><circle cx="387.32" cy="225.59" r="0.92"/><circle cx="385.19" cy="229.85" r="0.92"/><circle cx="389.45" cy="229.85" r="0.92"/></g><rect x="383.14" y="133.89" width="5.69" height="98.21" fill="none" stroke="#000" stroke-width="0.32"/><clipPath id="c48"><rect x="421.1" y="125.34" width="5.69" height="106.76"/></clipPath><rect x="421.1" y="125.34" width="5.69" height="106.76" fill="#ffff00"/><g class="ho" clip-path="url(#c48)"><circle cx="423.52" cy="127.65" r="0.92"/><circle cx="427.78" cy="127.65" r="0.92"/><circle cx="421.39" cy="131.91" r="0.92"/><circle cx="425.65" cy="131.91" r="0.92"/><circle cx="423.52" cy="136.17" r="0.92"/><circle cx="427.78" cy="136.17" r="0.92"/><circle cx="421.39" cy="140.43" r="0.92"/><circle cx="425.65" cy="140.43" r="0.92"/><circle cx="423.52" cy="144.68" r="0.92"/><circle cx="427.78" cy="144.68" r="0.92"/><circle cx="421.39" cy="148.94" r="0.92"/><circle cx="425.65" cy="148.94" r="0.92"/><circle cx="423.52" cy="153.2" r="0.92"/><circle cx="427.78" cy="153.2" r="0.92"/><circle cx="421.39" cy="157.46" r="0.92"/><circle cx="425.65" cy="157.46" r="0.92"/><circle cx="423.52" cy="161.72" r="0.92"/><circle cx="427.78" cy="161.72" r="0.92"/><circle cx="421.39" cy="165.98" r="0.92"/><circle cx="425.65" cy="165.98" r="0.92"/><circle cx="423.52" cy="170.23" r="0.92"/><circle cx="427.78" cy="170.23" r="0.92"/><circle cx="421.39" cy="174.49" r="0.92"/><circle cx="425.65" cy="174.49" r="0.92"/><circle cx="423.52" cy="178.75" r="0.92"/><circle cx="427.78" cy="178.75" r="0.92"/><circle cx="421.39" cy="183.01" r="0.92"/><circle cx="425.65" cy="183.01" r="0.92"/><circle cx="423.52" cy="187.27" r="0.92"/><circle cx="427.78" cy="187.27" r="0.92"/><circle cx="421.39" cy="191.53" r="0.92"/><circle cx="425.65" cy="191.53" r="0.92"/><circle cx="423.52" cy="195.78" r="0.92"/><circle cx="427.78" cy="195.78" r="0.92"/><circle cx="421.39" cy="200.04" r="0.92"/><circle cx="425.65" cy="200.04" r="0.92"/><circle cx="423.52" cy="204.3" r="0.92"/><circle cx="427.78" cy="204.3" r="0.92"/><circle cx="421.39" cy="208.56" r="0.92"/><circle cx="425.65" cy="208.56" r="0.92"/><circle cx="423.52" cy="212.82" r="0.92"/><circle cx="427.78" cy="212.82" r="0.92"/><circle cx="421.39" cy="217.08" r="0.92"/><circle cx="425.65" cy="217.08" r="0.92"/><circle cx="423.52" cy="221.33" r="0.92"/><circle cx="427.78" cy="221.33" r="0.92"/><circle cx="421.39" cy="225.59" r="0.92"/><circle cx="425.65" cy="225.59" r="0.92"/><circle cx="423.52" cy="229.85" r="0.92"/><circle cx="427.78" cy="229.85" r="0.92"/></g><rect x="421.1" y="125.34" width="5.69" height="106.76" fill="none" stroke="#000" stroke-width="0.32"/><clipPath id="c49"><rect x="459.05" y="116.8" width="5.69" height="115.3"/></clipPath><rect x="459.05" y="116.8" width="5.69" height="115.3" fill="#ffff00"/><g class="ho" clip-path="url(#c49)"><circle cx="461.84" cy="119.13" r="0.92"/><circle cx="459.71" cy="123.39" r="0.92"/><circle cx="463.97" cy="123.39" r="0.92"/><circle cx="461.84" cy="127.65" r="0.92"/><circle cx="459.71" cy="131.91" r="0.92"/><circle cx="463.97" cy="131.91" r="0.92"/><circle cx="461.84" cy="136.17" r="0.92"/><circle cx="459.71" cy="140.43" r="0.92"/><circle cx="463.97" cy="140.43" r="0.92"/><circle cx="461.84" cy="144.68" r="0.92"/><circle cx="459.71" cy="148.94" r="0.92"/><circle cx="463.97" cy="148.94" r="0.92"/><circle cx="461.84" cy="153.2" r="0.92"/><circle cx="459.71" cy="157.46" r="0.92"/><circle cx="463.97" cy="157.46" r="0.92"/><circle cx="461.84" cy="161.72" r="0.92"/><circle cx="459.71" cy="165.98" r="0.92"/><circle cx="463.97" cy="165.98" r="0.92"/><circle cx="461.84" cy="170.23" r="0.92"/><circle cx="459.71" cy="174.49" r="0.92"/><circle cx="463.97" cy="174.49" r="0.92"/><circle cx="461.84" cy="178.75" r="0.92"/><circle cx="459.71" cy="183.01" r="0.92"/><circle cx="463.97" cy="183.01" r="0.92"/><circle cx="461.84" cy="187.27" r="0.92"/><circle cx="459.71" cy="191.53" r="0.92"/><circle cx="463.97" cy="191.53" r="0.92"/><circle cx="461.84" cy="195.78" r="0.92"/><circle cx="459.71" cy="200.04" r="0.92"/><circle cx="463.97" cy="200.04" r="0.92"/><circle cx="461.84" cy="204.3" r="0.92"/><circle cx="459.71" cy="208.56" r="0.92"/><circle cx="463.97" cy="208.56" r="0.92"/><circle cx="461.84" cy="212.82" r="0.92"/><circle cx="459.71" cy="217.08" r="0.92"/><circle cx="463.97" cy="217.08" r="0.92"/><circle cx="461.84" cy="221.33" r="0.92"/><circle cx="459.71" cy="225.59" r="0.92"/><circle cx="463.97" cy="225.59" r="0.92"/><circle cx="461.84" cy="229.85" r="0.92"/></g><rect x="459.05" y="116.8" width="5.69" height="115.3" fill="none" stroke="#000" stroke-width="0.32"/><clipPath id="c50"><rect x="497" y="108.26" width="5.69" height="123.84"/></clipPath><rect x="497" y="108.26" width="5.69" height="123.84" fill="#ffff00"/><g class="ho" clip-path="url(#c50)"><circle cx="495.91" cy="110.62" r="0.92"/><circle cx="500.17" cy="110.62" r="0.92"/><circle cx="498.04" cy="114.88" r="0.92"/><circle cx="502.3" cy="114.88" r="0.92"/><circle cx="495.91" cy="119.13" r="0.92"/><circle cx="500.17" cy="119.13" r="0.92"/><circle cx="498.04" cy="123.39" r="0.92"/><circle cx="502.3" cy="123.39" r="0.92"/><circle cx="495.91" cy="127.65" r="0.92"/><circle cx="500.17" cy="127.65" r="0.92"/><circle cx="498.04" cy="131.91" r="0.92"/><circle cx="502.3" cy="131.91" r="0.92"/><circle cx="495.91" cy="136.17" r="0.92"/><circle cx="500.17" cy="136.17" r="0.92"/><circle cx="498.04" cy="140.43" r="0.92"/><circle cx="502.3" cy="140.43" r="0.92"/><circle cx="495.91" cy="144.68" r="0.92"/><circle cx="500.17" cy="144.68" r="0.92"/><circle cx="498.04" cy="148.94" r="0.92"/><circle cx="502.3" cy="148.94" r="0.92"/><circle cx="495.91" cy="153.2" r="0.92"/><circle cx="500.17" cy="153.2" r="0.92"/><circle cx="498.04" cy="157.46" r="0.92"/><circle cx="502.3" cy="157.46" r="0.92"/><circle cx="495.91" cy="161.72" r="0.92"/><circle cx="500.17" cy="161.72" r="0.92"/><circle cx="498.04" cy="165.98" r="0.92"/><circle cx="502.3" cy="165.98" r="0.92"/><circle cx="495.91" cy="170.23" r="0.92"/><circle cx="500.17" cy="170.23" r="0.92"/><circle cx="498.04" cy="174.49" r="0.92"/><circle cx="502.3" cy="174.49" r="0.92"/><circle cx="495.91" cy="178.75" r="0.92"/><circle cx="500.17" cy="178.75" r="0.92"/><circle cx="498.04" cy="183.01" r="0.92"/><circle cx="502.3" cy="183.01" r="0.92"/><circle cx="495.91" cy="187.27" r="0.92"/><circle cx="500.17" cy="187.27" r="0.92"/><circle cx="498.04" cy="191.53" r="0.92"/><circle cx="502.3" cy="191.53" r="0.92"/><circle cx="495.91" cy="195.78" r="0.92"/><circle cx="500.17" cy="195.78" r="0.92"/><circle cx="498.04" cy="200.04" r="0.92"/><circle cx="502.3" cy="200.04" r="0.92"/><circle cx="495.91" cy="204.3" r="0.92"/><circle cx="500.17" cy="204.3" r="0.92"/><circle cx="498.04" cy="208.56" r="0.92"/><circle cx="502.3" cy="208.56" r="0.92"/><circle cx="495.91" cy="212.82" r="0.92"/><circle cx="500.17" cy="212.82" r="0.92"/><circle cx="498.04" cy="217.08" r="0.92"/><circle cx="502.3" cy="217.08" r="0.92"/><circle cx="495.91" cy="221.33" r="0.92"/><circle cx="500.17" cy="221.33" r="0.92"/><circle cx="498.04" cy="225.59" r="0.92"/><circle cx="502.3" cy="225.59" r="0.92"/><circle cx="495.91" cy="229.85" r="0.92"/><circle cx="500.17" cy="229.85" r="0.92"/></g><rect x="497" y="108.26" width="5.69" height="123.84" fill="none" stroke="#000" stroke-width="0.32"/><clipPath id="c51"><rect x="350.88" y="168.05" width="5.69" height="64.05"/></clipPath><rect x="350.88" y="168.05" width="5.69" height="64.05" fill="#ffa200"/><path d="M350.88 225.35L356.58 231.04M350.88 216.83L356.58 222.53M350.88 208.32L356.58 214.01M350.88 199.8L356.58 205.49M350.88 191.28L356.58 196.98M350.88 182.77L356.58 188.46M350.88 174.25L356.58 179.94M353.2 168.05L356.58 171.43" class="hl2" clip-path="url(#c51)"/><rect x="350.88" y="168.05" width="5.69" height="64.05" fill="none" stroke="#000" stroke-width="0.32"/><clipPath id="c52"><rect x="388.84" y="159.51" width="5.69" height="72.59"/></clipPath><rect x="388.84" y="159.51" width="5.69" height="72.59" fill="#ffa200"/><path d="M388.84 229.24L391.7 232.1M388.84 220.72L394.53 226.41M388.84 212.2L394.53 217.9M388.84 203.69L394.53 209.38M388.84 195.17L394.53 200.86M388.84 186.65L394.53 192.35M388.84 178.14L394.53 183.83M388.84 169.62L394.53 175.31M388.84 161.1L394.53 166.8" class="hl2" clip-path="url(#c52)"/><rect x="388.84" y="159.51" width="5.69" height="72.59" fill="none" stroke="#000" stroke-width="0.32"/><clipPath id="c53"><rect x="426.79" y="150.97" width="5.69" height="81.13"/></clipPath><rect x="426.79" y="150.97" width="5.69" height="81.13" fill="#ffa200"/><path d="M426.79 224.61L432.48 230.3M426.79 216.09L432.48 221.78M426.79 207.57L432.48 213.27M426.79 199.06L432.48 204.75M426.79 190.54L432.48 196.23M426.79 182.02L432.48 187.72M426.79 173.51L432.48 179.2M426.79 164.99L432.48 170.68M426.79 156.47L432.48 162.17M429.8 150.97L432.48 153.65" class="hl2" clip-path="url(#c53)"/><rect x="426.79" y="150.97" width="5.69" height="81.13" fill="none" stroke="#000" stroke-width="0.32"/><clipPath id="c54"><rect x="464.74" y="142.43" width="5.69" height="89.67"/></clipPath><rect x="464.74" y="142.43" width="5.69" height="89.67" fill="#ffa200"/><path d="M464.74 228.49L468.35 232.1M464.74 219.97L470.43 225.67M464.74 211.46L470.43 217.15M464.74 202.94L470.43 208.63M464.74 194.42L470.43 200.12M464.74 185.91L470.43 191.6M464.74 177.39L470.43 183.08M464.74 168.87L470.43 174.57M464.74 160.36L470.43 166.05M464.74 151.84L470.43 157.53M464.74 143.32L470.43 149.02" class="hl2" clip-path="url(#c54)"/><rect x="464.74" y="142.43" width="5.69" height="89.67" fill="none" stroke="#000" stroke-width="0.32"/><clipPath id="c55"><rect x="502.69" y="133.89" width="5.69" height="98.21"/></clipPath><rect x="502.69" y="133.89" width="5.69" height="98.21" fill="#ffa200"/><path d="M502.69 223.86L508.39 229.55M502.69 215.34L508.39 221.04M502.69 206.83L508.39 212.52M502.69 198.31L508.39 204M502.69 189.79L508.39 195.49M502.69 181.28L508.39 186.97M502.69 172.76L508.39 178.45M502.69 164.24L508.39 169.94M502.69 155.73L508.39 161.42M502.69 147.21L508.39 152.9M502.69 138.69L508.39 144.39M506.4 133.89L508.39 135.87" class="hl2" clip-path="url(#c55)"/><rect x="502.69" y="133.89" width="5.69" height="98.21" fill="none" stroke="#000" stroke-width="0.32"/><rect x="319.10" y="39.3" width="198.30" height="192.80" fill="none" stroke="#000" stroke-width="0.285"/><path d="M336.65 232.1v1.25" class="tk"/><text x="336.65" y="237.04" font-size="3.210" text-anchor="middle">100</text><path d="M374.61 232.1v1.25" class="tk"/><text x="374.61" y="237.04" font-size="3.210" text-anchor="middle">200</text><path d="M412.56 232.1v1.25" class="tk"/><text x="412.56" y="237.04" font-size="3.210" text-anchor="middle">300</text><path d="M450.51 232.1v1.25" class="tk"/><text x="450.51" y="237.04" font-size="3.210" text-anchor="middle">400</text><path d="M488.46 232.1v1.25" class="tk"/><text x="488.46" y="237.04" font-size="3.210" text-anchor="middle">500</text><path d="M319.10 232.10h-1.25" class="tk"/><text x="316.60" y="233.26" font-size="3.210" text-anchor="end">0.0</text><path d="M319.10 189.40h-1.25" class="tk"/><text x="316.60" y="190.55" font-size="3.210" text-anchor="end">0.1</text><path d="M319.10 146.70h-1.25" class="tk"/><text x="316.60" y="147.85" font-size="3.210" text-anchor="end">0.2</text><path d="M319.10 103.99h-1.25" class="tk"/><text x="316.60" y="105.15" font-size="3.210" text-anchor="end">0.3</text><path d="M319.10 61.29h-1.25" class="tk"/><text x="316.60" y="62.45" font-size="3.210" text-anchor="end">0.4</text><text x="418.25" y="37.20" font-size="4.280" text-anchor="middle">Gnode_LC=5000 &amp; Gnode_SC=50000 file blocks</text><text x="418.25" y="243.60" font-size="5.351" text-anchor="middle">Number of file blocks in Dnode_LC of Dnodes</text><text transform="translate(306.20 135.00) rotate(-90)" font-size="5.351" text-anchor="middle">Dnode_LC Hit Ratio</text><rect x="321.06" y="40.80" width="36.62" height="29.70" rx="0.78" fill="#fff" fill-opacity="0.8" stroke="#d4d4d4" stroke-width="0.3"/><clipPath id="c56"><rect x="322.63" y="42.93" width="7.84" height="2.74"/></clipPath><rect x="322.63" y="42.93" width="7.84" height="2.74" fill="#8e8e8e"/><path d="M322.63 43.11L322.81 42.93M322.63 45.54L325.24 42.93M324.93 45.67L327.67 42.93M327.36 45.67L330.1 42.93M329.79 45.67L330.47 44.99" class="hg" clip-path="url(#c56)"/><rect x="322.63" y="42.93" width="7.84" height="2.74" fill="none" stroke="#000" stroke-width="0.5"/><text x="333.60" y="45.71" font-size="3.920">HRFP</text><clipPath id="c57"><rect x="322.63" y="48.43" width="7.84" height="2.74"/></clipPath><rect x="322.63" y="48.43" width="7.84" height="2.74" fill="#8a8a00"/><path d="M322.63 49.69L323.89 48.43M329.66 51.17L330.47 50.37M327.26 48.43L330.01 51.17" class="hl" clip-path="url(#c57)"/><rect x="322.63" y="48.43" width="7.84" height="2.74" fill="none" stroke="#000" stroke-width="0.5"/><text x="333.60" y="51.21" font-size="3.920">HRFP_LRU</text><clipPath id="c58"><rect x="322.63" y="53.93" width="7.84" height="2.74"/></clipPath><rect x="322.63" y="53.93" width="7.84" height="2.74" fill="#90ee90"/><g class="hd" clip-path="url(#c58)"><circle cx="323.45" cy="55.26" r="0.77"/><circle cx="327.7" cy="55.26" r="0.77"/></g><rect x="322.63" y="53.93" width="7.84" height="2.74" fill="none" stroke="#000" stroke-width="0.5"/><text x="333.60" y="56.71" font-size="3.920">SBFBAP</text><clipPath id="c59"><rect x="322.63" y="59.43" width="7.84" height="2.74"/></clipPath><rect x="322.63" y="59.43" width="7.84" height="2.74" fill="#ffff00"/><g class="ho" clip-path="url(#c59)"><circle cx="325.58" cy="59.52" r="0.92"/><circle cx="329.83" cy="59.52" r="0.92"/></g><rect x="322.63" y="59.43" width="7.84" height="2.74" fill="none" stroke="#000" stroke-width="0.5"/><text x="333.60" y="62.21" font-size="3.920">SBMS</text><clipPath id="c60"><rect x="322.63" y="64.93" width="7.84" height="2.74"/></clipPath><rect x="322.63" y="64.93" width="7.84" height="2.74" fill="#ffa200"/><path d="M326.73 64.93L329.47 67.67" class="hl2" clip-path="url(#c60)"/><rect x="322.63" y="64.93" width="7.84" height="2.74" fill="none" stroke="#000" stroke-width="0.5"/><text x="333.60" y="67.71" font-size="3.920">Dcache</text><text x="414.80" y="285.9" font-size="12.2" text-anchor="middle" class="cap">(<tspan font-weight="bold">b</tspan>)</text></svg>
</body></html>
